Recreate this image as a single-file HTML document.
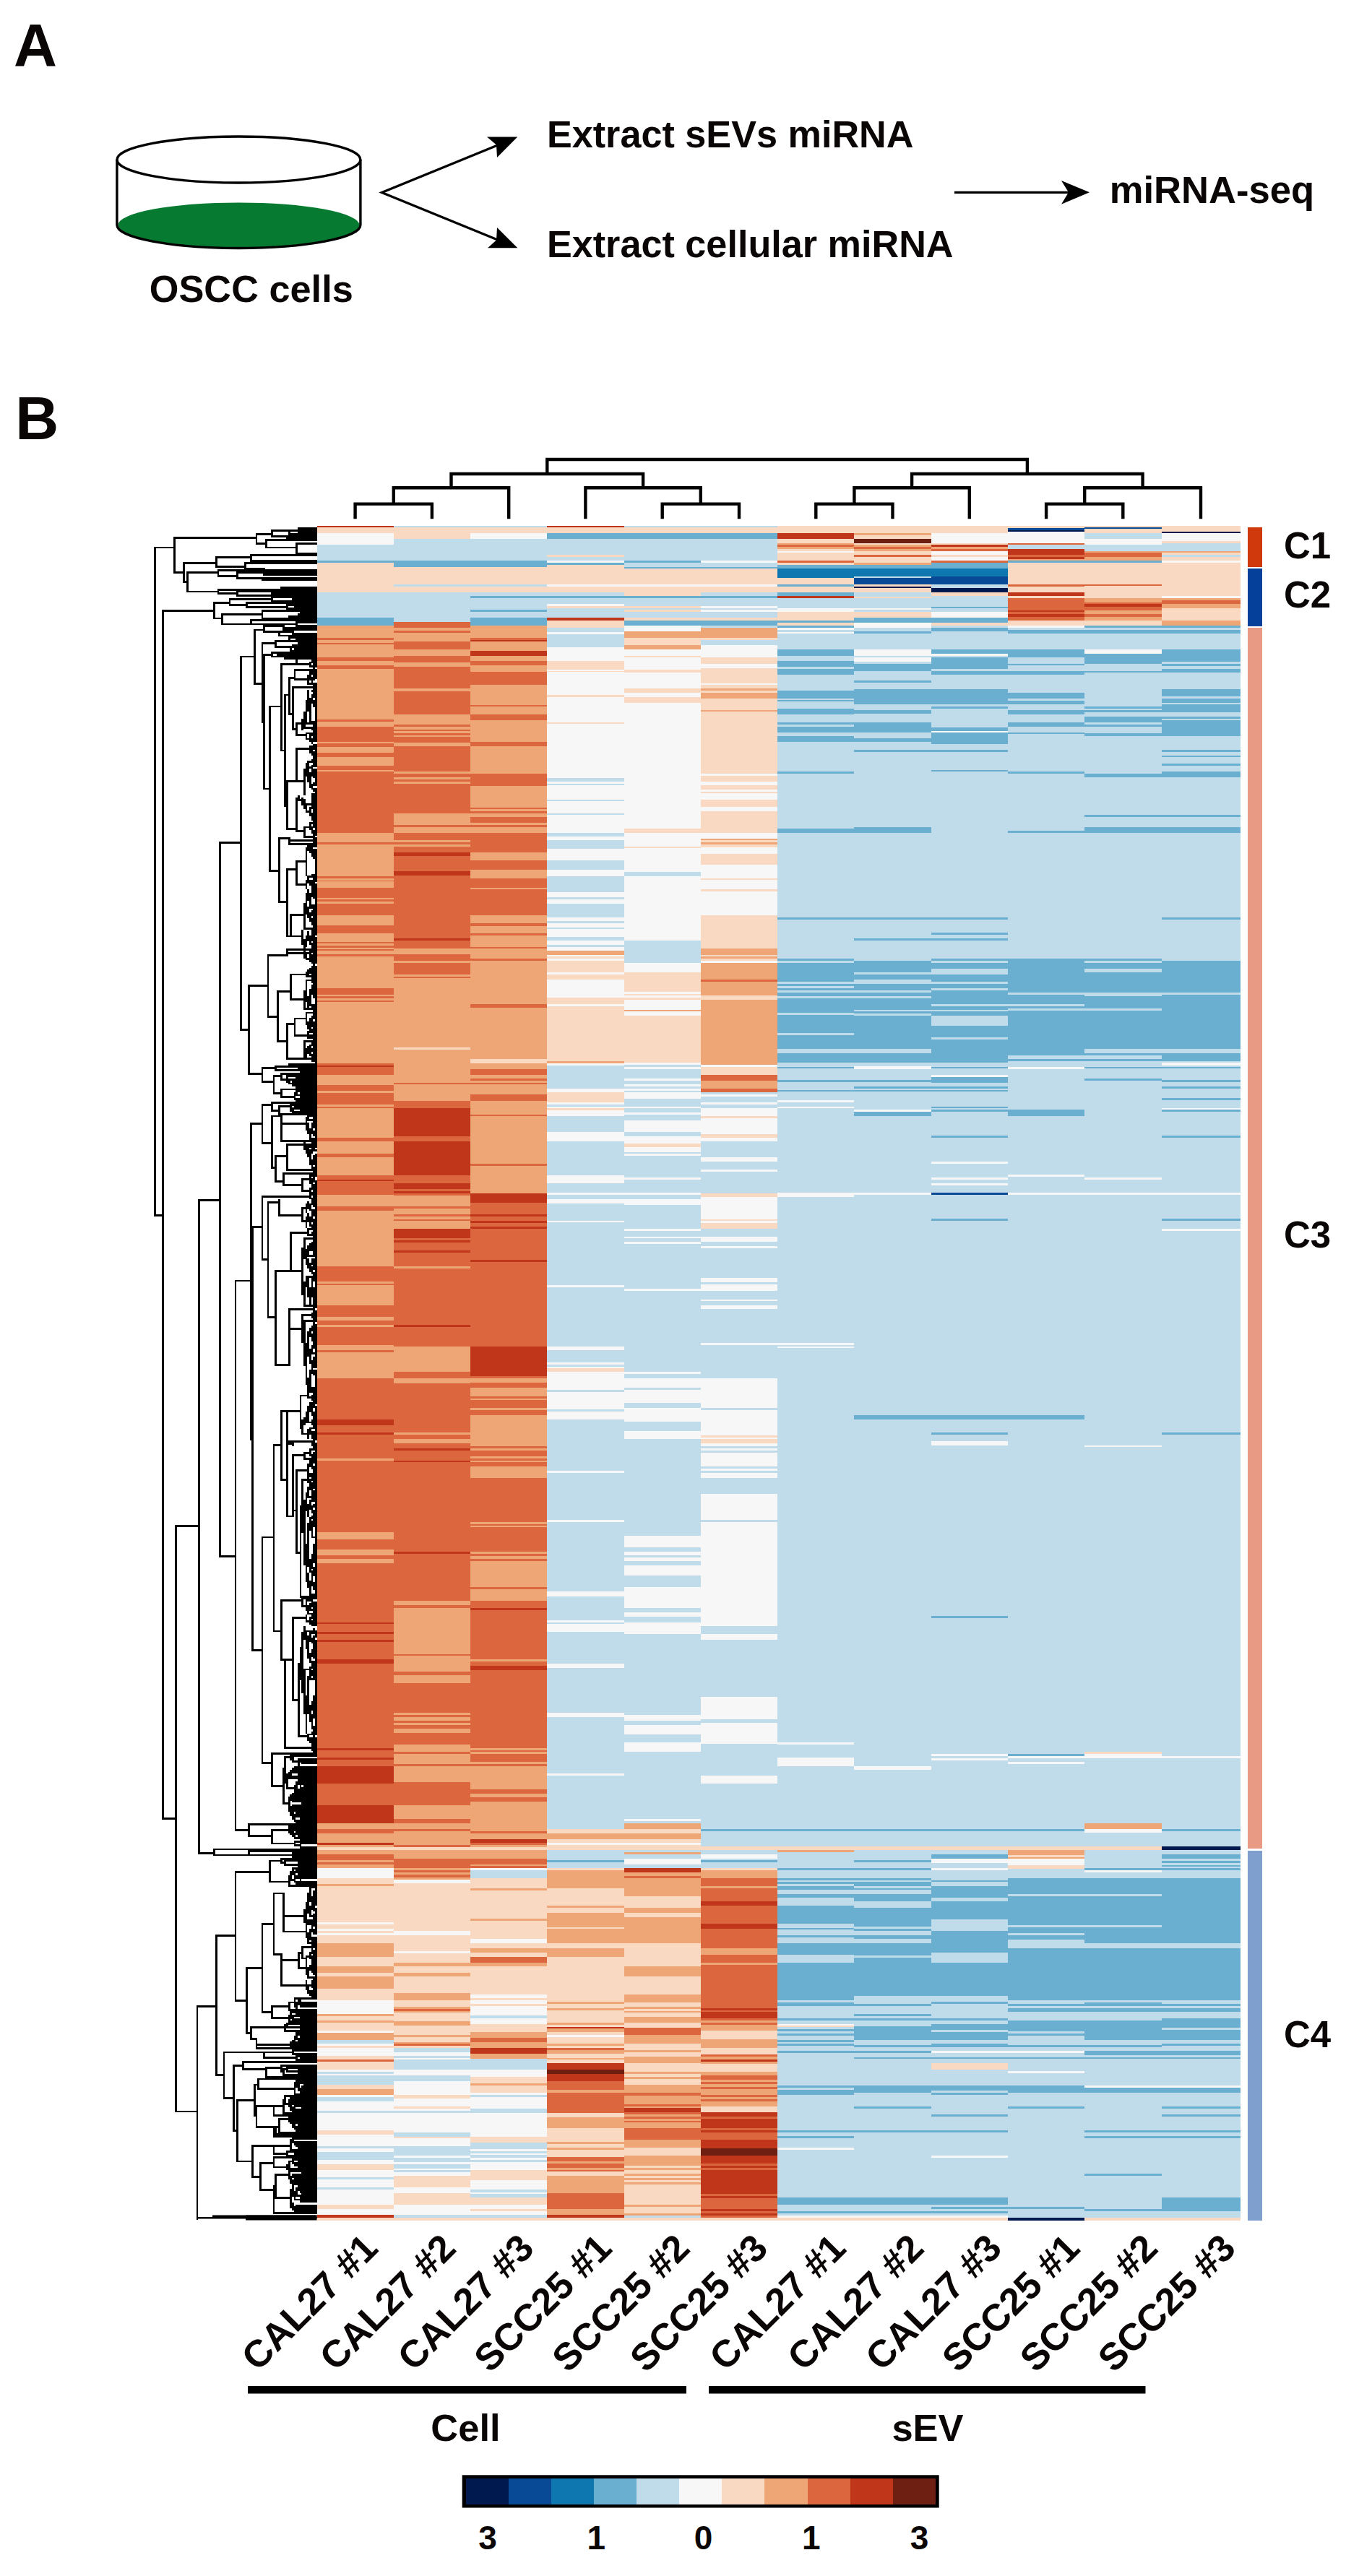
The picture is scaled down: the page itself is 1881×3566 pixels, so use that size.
<!DOCTYPE html>
<html><head><meta charset="utf-8"><title>Figure</title>
<style>html,body{margin:0;padding:0;background:#fff}svg{display:block}text{font-family:"Liberation Sans",Arial,sans-serif;font-weight:bold;fill:#0a0606}</style>
</head><body>
<svg width="1881" height="3566" viewBox="0 0 1881 3566">
<rect width="1881" height="3566" fill="#fff"/>
<text x="19" y="92" font-size="83">A</text>
<text x="21.3" y="607.5" font-size="83">B</text>
<ellipse cx="330.4" cy="311.5" rx="167" ry="31" fill="#067a30"/>
<g fill="none" stroke="#000" stroke-width="3.4"><ellipse cx="330.4" cy="221" rx="168.5" ry="32"/><path d="M161.9 221V311.5A168.5 32 0 0 0 498.9 311.5V221"/></g>
<text x="347.8" y="418" font-size="52.3" text-anchor="middle">OSCC cells</text>
<g stroke="#000" stroke-width="3.3" fill="none" stroke-linejoin="miter"><path d="M690 200.5L528.5 266.5L690 332.5"/><path d="M1321 266.3H1480"/></g>
<path d="M716.3 189.4L674 189.4L687 200.5L688 218z"/><path d="M716.3 343.2L675 343.2L687 332.5L688 315z"/><path d="M1508 266.3L1469 250L1479 266.3L1469 282.7z"/>
<text x="756.9" y="203.8" font-size="52.2">Extract sEVs miRNA</text>
<text x="756.9" y="356.3" font-size="52.2">Extract cellular miRNA</text>
<text x="1535.7" y="280.5" font-size="52.6">miRNA-seq</text>
<path d="M491.6 718.3V697.6H597.9V718.3M544.8 697.6V675.2H704.2V718.3M916.7 718.3V697.6H1023V718.3M810.4 718.3V675.2H969.8V697.6M624.5 675.2V656H890.1V675.2M1129.3 718.3V697.6H1235.5V718.3M1182.4 697.6V675.2H1341.8V718.3M1448.1 718.3V697.6H1554.3V718.3M1501.2 697.6V675.2H1662V718.3M1262.1 675.2V656H1581.6V675.2M757.3 656V636H1421.9V656" fill="none" stroke="#000" stroke-width="4.4" stroke-linejoin="miter" stroke-linecap="butt"/>
<g shape-rendering="crispEdges">
<path fill="#001a4f" d="M1182.4 811.8H1288.7V814.2H1182.4zM1288.7 814.2H1394.9V819.5H1288.7zM1394.9 734.3H1501.2V735.8H1394.9zM1394.9 3069.5H1501.2V3073.5H1394.9zM1607.5 735.8H1716.6V738.2H1607.5zM1607.5 2555.7H1716.6V2561.4H1607.5z"/>
<path fill="#084a96" d="M1182.4 800.4H1288.7V809H1182.4zM1288.7 797.5H1394.9V809H1288.7zM1288.7 1651.2H1394.9V1654.1H1288.7zM1394.9 730.5H1501.2V734.3H1394.9zM1501.2 729.6H1607.5V732.4H1501.2z"/>
<path fill="#0e77b0" d="M1076.1 787H1182.4V800.4H1076.1zM1182.4 787H1288.7V797.5H1182.4zM1288.7 787H1394.9V797.5H1288.7z"/>
<path fill="#6aaed0" d="M438.5 776.4H544.8V779.3H438.5zM438.5 855.4H544.8V866.4H438.5zM544.8 776.4H651V784.6H544.8zM651 776.4H757.3V784.6H651zM651 825.2H757.3V827.6H651zM651 844.4H757.3V847.2H651zM651 855.4H757.3V866.4H651zM757.3 738.2H863.6V746.3H757.3zM757.3 779.3H863.6V782.2H757.3zM757.3 825.2H863.6V827.6H757.3zM757.3 2574.8H863.6V2577.7H757.3zM863.6 738.2H969.9V746.3H863.6zM863.6 776.4H969.9V779.3H863.6zM863.6 784.6H969.9V787H863.6zM863.6 825.2H969.9V827.6H863.6zM863.6 858.7H969.9V865.9H863.6zM969.9 738.2H1076.1V746.3H969.9zM969.9 784.6H1076.1V787H969.9zM969.9 825.2H1076.1V827.6H969.9zM969.9 858.7H1076.1V865.9H969.9zM969.9 2531.7H1076.1V2534.6H969.9zM969.9 2574.8H1076.1V2577.7H969.9zM1076.1 782.2H1182.4V787H1076.1zM1076.1 809H1182.4V811.8H1076.1zM1076.1 819.5H1182.4V825.2H1076.1zM1076.1 858.7H1182.4V861.6H1076.1zM1076.1 866.4H1182.4V869.2H1076.1zM1076.1 899.4H1182.4V907.5H1076.1zM1076.1 915.1H1182.4V923.3H1076.1zM1076.1 925.7H1182.4V933.8H1076.1zM1076.1 956.3H1182.4V966.8H1076.1zM1076.1 968.7H1182.4V970.6H1076.1zM1076.1 980.7H1182.4V988.8H1076.1zM1076.1 999.8H1182.4V1003.1H1076.1zM1076.1 1006H1182.4V1013.8H1076.1zM1076.1 1018.6H1182.4V1027.2H1076.1zM1076.1 1068.4H1182.4V1070.7H1076.1zM1076.1 1147.3H1182.4V1152.5H1076.1zM1076.1 1269.7H1182.4V1272.6H1076.1zM1076.1 1326.8H1182.4V1329.7H1076.1zM1076.1 1332.5H1182.4V1359.3H1076.1zM1076.1 1362.2H1182.4V1365H1076.1zM1076.1 1367.9H1182.4V1370.8H1076.1zM1076.1 1373.7H1182.4V1378.9H1076.1zM1076.1 1381.8H1182.4V1402.4H1076.1zM1076.1 1405.2H1182.4V1430.1H1076.1zM1076.1 1433H1182.4V1452.1H1076.1zM1076.1 1457.8H1182.4V1471.2H1076.1zM1076.1 1477H1182.4V1479.4H1076.1zM1076.1 1495.1H1182.4V1498H1076.1zM1076.1 1508.5H1182.4V1511.4H1076.1zM1076.1 2531.7H1182.4V2534.6H1076.1zM1076.1 2586.3H1182.4V2589.1H1076.1zM1076.1 2599.7H1182.4V2602.5H1076.1zM1076.1 2605.4H1182.4V2608.3H1076.1zM1076.1 2611.1H1182.4V2615.9H1076.1zM1076.1 2621.7H1182.4V2627.4H1076.1zM1076.1 2637.9H1182.4V2662.8H1076.1zM1076.1 2668.5H1182.4V2671.4H1076.1zM1076.1 2679.1H1182.4V2681.9H1076.1zM1076.1 2689.6H1182.4V2705.8H1076.1zM1076.1 2717.3H1182.4V2769.1H1076.1zM1076.1 2772H1182.4V2776.8H1076.1zM1076.1 2794H1182.4V2796.9H1076.1zM1076.1 2809.3H1182.4V2812.2H1076.1zM1076.1 2815H1182.4V2817.9H1076.1zM1076.1 2823.7H1182.4V2826.5H1076.1zM1076.1 2829.4H1182.4V2832.3H1076.1zM1076.1 2839H1182.4V2841.8H1076.1zM1076.1 2886.8H1182.4V2889.7H1076.1zM1076.1 2892.5H1182.4V2900.2H1076.1zM1076.1 2949H1182.4V2951.8H1076.1zM1076.1 2956.6H1182.4V2959.5H1076.1zM1076.1 3041.8H1182.4V3052.3H1076.1zM1076.1 3060.9H1182.4V3063.8H1076.1zM1182.4 782.2H1288.7V787H1182.4zM1182.4 855.4H1288.7V861.6H1182.4zM1182.4 874H1288.7V876.9H1182.4zM1182.4 919H1288.7V928.5H1182.4zM1182.4 942.4H1288.7V944.8H1182.4zM1182.4 954.4H1288.7V974.9H1182.4zM1182.4 983.1H1288.7V987.8H1182.4zM1182.4 999.8H1288.7V1013.8H1182.4zM1182.4 1021.5H1288.7V1027.2H1182.4zM1182.4 1037.7H1288.7V1040.6H1182.4zM1182.4 1144.9H1288.7V1152.5H1182.4zM1182.4 1269.7H1288.7V1272.6H1182.4zM1182.4 1298.9H1288.7V1302.4H1182.4zM1182.4 1329.7H1288.7V1345.9H1182.4zM1182.4 1348.8H1288.7V1356.4H1182.4zM1182.4 1362.2H1288.7V1370.8H1182.4zM1182.4 1373.7H1288.7V1378.9H1182.4zM1182.4 1381.8H1288.7V1398H1182.4zM1182.4 1400.4H1288.7V1403.3H1182.4zM1182.4 1406.2H1288.7V1452.1H1182.4zM1182.4 1457.8H1288.7V1471.2H1182.4zM1182.4 1495.1H1288.7V1498H1182.4zM1182.4 1503.7H1288.7V1506.6H1182.4zM1182.4 1508.5H1288.7V1511.4H1182.4zM1182.4 1539.1H1288.7V1544.9H1182.4zM1182.4 1959.4H1288.7V1965.1H1182.4zM1182.4 2531.7H1288.7V2534.6H1182.4zM1182.4 2574.8H1288.7V2577.7H1182.4zM1182.4 2586.3H1288.7V2589.1H1182.4zM1182.4 2599.7H1288.7V2602.5H1182.4zM1182.4 2605.4H1288.7V2611.1H1182.4zM1182.4 2614H1288.7V2615.9H1182.4zM1182.4 2621.7H1288.7V2632.2H1182.4zM1182.4 2640.8H1288.7V2666.6H1182.4zM1182.4 2670.4H1288.7V2673.3H1182.4zM1182.4 2679.1H1288.7V2683.8H1182.4zM1182.4 2689.6H1288.7V2706.8H1182.4zM1182.4 2709.7H1288.7V2763.4H1182.4zM1182.4 2773.9H1288.7V2776.8H1182.4zM1182.4 2788.3H1288.7V2791.1H1182.4zM1182.4 2794H1288.7V2796.9H1182.4zM1182.4 2804.5H1288.7V2823.7H1182.4zM1182.4 2831.3H1288.7V2834.2H1182.4zM1182.4 2839H1288.7V2841.8H1182.4zM1182.4 2847.6H1288.7V2850.4H1182.4zM1182.4 2886.8H1288.7V2897.3H1182.4zM1182.4 2916.4H1288.7V2919.3H1182.4zM1182.4 2949H1288.7V2951.8H1182.4zM1182.4 3041.8H1288.7V3052.3H1182.4zM1182.4 3060.9H1288.7V3063.8H1182.4zM1288.7 779.3H1394.9V787H1288.7zM1288.7 839.6H1394.9V842H1288.7zM1288.7 855.4H1394.9V861.6H1288.7zM1288.7 869.2H1394.9V874H1288.7zM1288.7 899.4H1394.9V904.6H1288.7zM1288.7 910.4H1394.9V925.7H1288.7zM1288.7 928.5H1394.9V933.8H1288.7zM1288.7 954.4H1394.9V974.9H1288.7zM1288.7 978.3H1394.9V980.7H1288.7zM1288.7 1007H1394.9V1009.8H1288.7zM1288.7 1010H1394.9V1012.4H1288.7zM1288.7 1013.8H1394.9V1030.1H1288.7zM1288.7 1037.7H1394.9V1040.6H1288.7zM1288.7 1065.5H1394.9V1067.9H1288.7zM1288.7 1269.7H1394.9V1272.6H1288.7zM1288.7 1291.2H1394.9V1293.6H1288.7zM1288.7 1298.9H1394.9V1302.4H1288.7zM1288.7 1326.8H1394.9V1329.7H1288.7zM1288.7 1332.5H1394.9V1340.7H1288.7zM1288.7 1348.8H1394.9V1359.3H1288.7zM1288.7 1362.2H1394.9V1367.9H1288.7zM1288.7 1370.8H1394.9V1389.9H1288.7zM1288.7 1392.8H1394.9V1398H1288.7zM1288.7 1400.4H1394.9V1406.2H1288.7zM1288.7 1419.6H1394.9V1435.8H1288.7zM1288.7 1438.7H1394.9V1471.2H1288.7zM1288.7 1477H1394.9V1479.4H1288.7zM1288.7 1491.3H1394.9V1499H1288.7zM1288.7 1503.7H1394.9V1506.6H1288.7zM1288.7 1508.5H1394.9V1511.4H1288.7zM1288.7 1531.5H1394.9V1534.4H1288.7zM1288.7 1536.3H1394.9V1539.1H1288.7zM1288.7 1571.7H1394.9V1574.5H1288.7zM1288.7 1686.6H1394.9V1689.5H1288.7zM1288.7 1959.4H1394.9V1965.1H1288.7zM1288.7 1983.3H1394.9V1986.2H1288.7zM1288.7 2237H1394.9V2239.8H1288.7zM1288.7 2531.7H1394.9V2534.6H1288.7zM1288.7 2567.1H1394.9V2572.9H1288.7zM1288.7 2602.5H1394.9V2605.4H1288.7zM1288.7 2611.1H1394.9V2627.4H1288.7zM1288.7 2632.2H1394.9V2657.1H1288.7zM1288.7 2673.3H1394.9V2703H1288.7zM1288.7 2717.3H1394.9V2763.4H1288.7zM1288.7 2771H1394.9V2773.9H1288.7zM1288.7 2794H1394.9V2796.9H1288.7zM1288.7 2801.7H1394.9V2810.3H1288.7zM1288.7 2813.1H1394.9V2823.7H1288.7zM1288.7 2829.4H1394.9V2834.2H1288.7zM1288.7 2847.6H1394.9V2850.4H1288.7zM1288.7 2886.8H1394.9V2894.4H1288.7zM1288.7 2897.3H1394.9V2900.2H1288.7zM1288.7 2927H1394.9V2929.8H1288.7zM1288.7 2949H1394.9V2951.8H1288.7zM1288.7 3041.8H1394.9V3052.3H1288.7zM1288.7 3055.1H1394.9V3058H1288.7zM1288.7 3060.9H1394.9V3063.8H1288.7zM1394.9 776.4H1501.2V779.3H1394.9zM1394.9 872.1H1501.2V876.9H1394.9zM1394.9 899.4H1501.2V910.4H1394.9zM1394.9 918.5H1501.2V920.9H1394.9zM1394.9 928.5H1501.2V933.8H1394.9zM1394.9 959.1H1501.2V966.8H1394.9zM1394.9 969.7H1501.2V974.9H1394.9zM1394.9 983.1H1501.2V988.8H1394.9zM1394.9 999.8H1501.2V1006H1394.9zM1394.9 1013.8H1501.2V1015.7H1394.9zM1394.9 1068.4H1501.2V1070.7H1394.9zM1394.9 1149.7H1501.2V1152.5H1394.9zM1394.9 1326.8H1501.2V1373.7H1394.9zM1394.9 1376.5H1501.2V1389.9H1394.9zM1394.9 1392.8H1501.2V1395.7H1394.9zM1394.9 1398.5H1501.2V1460.7H1394.9zM1394.9 1466.4H1501.2V1469.3H1394.9zM1394.9 1536.3H1501.2V1544.9H1394.9zM1394.9 1959.4H1501.2V1965.1H1394.9zM1394.9 2428.3H1501.2V2431.1H1394.9zM1394.9 2531.7H1501.2V2534.6H1394.9zM1394.9 2599.7H1501.2V2621.7H1394.9zM1394.9 2624.5H1501.2V2664.7H1394.9zM1394.9 2667.6H1501.2V2676.2H1394.9zM1394.9 2679.1H1501.2V2684.8H1394.9zM1394.9 2697.2H1501.2V2769.1H1394.9zM1394.9 2773.9H1501.2V2776.8H1394.9zM1394.9 2779.7H1501.2V2785.4H1394.9zM1394.9 2796.9H1501.2V2812.2H1394.9zM1394.9 2815H1501.2V2817.9H1394.9zM1394.9 2831.3H1501.2V2834.2H1394.9zM1394.9 2847.6H1501.2V2850.4H1394.9zM1394.9 2886.8H1501.2V2897.3H1394.9zM1394.9 2916.4H1501.2V2919.3H1394.9zM1394.9 3055.1H1501.2V3058H1394.9zM1501.2 776.4H1607.5V779.3H1501.2zM1501.2 866.4H1607.5V869.2H1501.2zM1501.2 872.1H1607.5V876.9H1501.2zM1501.2 904.6H1607.5V918.5H1501.2zM1501.2 928.5H1607.5V931.4H1501.2zM1501.2 978.3H1607.5V980.7H1501.2zM1501.2 983.1H1607.5V985.9H1501.2zM1501.2 991.7H1607.5V999.8H1501.2zM1501.2 1003.1H1607.5V1006H1501.2zM1501.2 1014.8H1607.5V1018.6H1501.2zM1501.2 1070.7H1607.5V1076H1501.2zM1501.2 1128.1H1607.5V1130.5H1501.2zM1501.2 1144.9H1607.5V1152.5H1501.2zM1501.2 1326.8H1607.5V1329.7H1501.2zM1501.2 1332.5H1607.5V1340.7H1501.2zM1501.2 1345.9H1607.5V1373.7H1501.2zM1501.2 1378.9H1607.5V1395.7H1501.2zM1501.2 1398.5H1607.5V1452.1H1501.2zM1501.2 1457.8H1607.5V1460.7H1501.2zM1501.2 1466.4H1607.5V1469.3H1501.2zM1501.2 1477H1607.5V1479.4H1501.2zM1501.2 1493.2H1607.5V1496.1H1501.2zM1501.2 2586.3H1607.5V2589.1H1501.2zM1501.2 2599.7H1607.5V2621.7H1501.2zM1501.2 2624.5H1607.5V2664.7H1501.2zM1501.2 2667.6H1607.5V2689.6H1501.2zM1501.2 2697.2H1607.5V2769.1H1501.2zM1501.2 2772H1607.5V2776.8H1501.2zM1501.2 2779.7H1607.5V2785.4H1501.2zM1501.2 2796.9H1607.5V2823.7H1501.2zM1501.2 2831.3H1607.5V2834.2H1501.2zM1501.2 2839H1607.5V2844.7H1501.2zM1501.2 2847.6H1607.5V2850.4H1501.2zM1501.2 2889.7H1607.5V2897.3H1501.2zM1501.2 2949H1607.5V2951.8H1501.2zM1501.2 2956.6H1607.5V2959.5H1501.2zM1501.2 3009.2H1607.5V3012.1H1501.2zM1501.2 3058H1607.5V3060.9H1501.2zM1607.5 866.4H1716.6V869.2H1607.5zM1607.5 872.1H1716.6V876.9H1607.5zM1607.5 899.4H1716.6V916.1H1607.5zM1607.5 919H1716.6V921.8H1607.5zM1607.5 925.7H1716.6V931.4H1607.5zM1607.5 954.4H1716.6V963.9H1607.5zM1607.5 966.8H1716.6V972.5H1607.5zM1607.5 974.9H1716.6V985.9H1607.5zM1607.5 991.7H1716.6V994.5H1607.5zM1607.5 997.4H1716.6V1018.6H1607.5zM1607.5 1037.7H1716.6V1040.6H1607.5zM1607.5 1045.9H1716.6V1048.3H1607.5zM1607.5 1056.9H1716.6V1059.7H1607.5zM1607.5 1068.4H1716.6V1076H1607.5zM1607.5 1128.1H1716.6V1130.5H1607.5zM1607.5 1144.9H1716.6V1152.5H1607.5zM1607.5 1269.7H1716.6V1272.6H1607.5zM1607.5 1329.7H1716.6V1373.7H1607.5zM1607.5 1376.5H1716.6V1452.1H1607.5zM1607.5 1457.8H1716.6V1469.3H1607.5zM1607.5 1477H1716.6V1479.4H1607.5zM1607.5 1495.1H1716.6V1498H1607.5zM1607.5 1503.7H1716.6V1506.6H1607.5zM1607.5 1520H1716.6V1522.9H1607.5zM1607.5 1536.3H1716.6V1539.1H1607.5zM1607.5 1571.7H1716.6V1574.5H1607.5zM1607.5 1686.6H1716.6V1689.5H1607.5zM1607.5 1983.3H1716.6V1986.2H1607.5zM1607.5 2531.7H1716.6V2534.6H1607.5zM1607.5 2567.1H1716.6V2572.9H1607.5zM1607.5 2575.7H1716.6V2578.6H1607.5zM1607.5 2581.5H1716.6V2584.4H1607.5zM1607.5 2586.3H1716.6V2589.1H1607.5zM1607.5 2599.7H1716.6V2689.6H1607.5zM1607.5 2697.2H1716.6V2769.1H1607.5zM1607.5 2773.9H1716.6V2776.8H1607.5zM1607.5 2779.7H1716.6V2785.4H1607.5zM1607.5 2794H1716.6V2807.4H1607.5zM1607.5 2810.3H1716.6V2823.7H1607.5zM1607.5 2829.4H1716.6V2832.3H1607.5zM1607.5 2839H1716.6V2844.7H1607.5zM1607.5 2847.6H1716.6V2850.4H1607.5zM1607.5 2889.7H1716.6V2897.3H1607.5zM1607.5 2916.4H1716.6V2919.3H1607.5zM1607.5 2927H1716.6V2929.8H1607.5zM1607.5 2949H1716.6V2951.8H1607.5zM1607.5 2956.6H1716.6V2959.5H1607.5zM1607.5 3041.8H1716.6V3060.9H1607.5z"/>
<path fill="#c0dcea" d="M438.5 754.4H544.8V776.4H438.5zM438.5 819.5H544.8V855.4H438.5zM438.5 2824.1H544.8V2829.4H438.5zM438.5 2867.7H544.8V2870.5H438.5zM438.5 2873.4H544.8V2885.8H438.5zM438.5 2903.1H544.8V2908.8H438.5zM438.5 2922.2H544.8V2925.1H438.5zM438.5 2971H544.8V2973.8H438.5zM438.5 2978.6H544.8V2990.1H438.5zM438.5 3014H544.8V3016.9H438.5zM438.5 3028.4H544.8V3031.2H438.5zM544.8 727.5H651V729.6H544.8zM544.8 746.3H651V776.4H544.8zM544.8 809H651V811.8H544.8zM544.8 819.5H651V861.1H544.8zM544.8 2835.1H651V2840.9H544.8zM544.8 2845.7H651V2848.5H544.8zM544.8 2851.4H651V2864.8H544.8zM544.8 2873.4H651V2881.1H544.8zM544.8 2922.2H651V2925.1H544.8zM544.8 2951.8H651V2957.6H544.8zM544.8 2971H651V2984.4H544.8zM544.8 2987.2H651V2993H544.8zM544.8 2995.8H651V3001.6H544.8zM544.8 3004.4H651V3007.3H544.8zM544.8 3065.7H651V3069.5H544.8zM651 727.5H757.3V729.6H651zM651 746.3H757.3V776.4H651zM651 809H757.3V811.8H651zM651 819.5H757.3V825.2H651zM651 827.6H757.3V844.4H651zM651 847.2H757.3V855.4H651zM651 2589.1H757.3V2599.7H651zM651 2790.2H757.3V2794H651zM651 2850.4H757.3V2864.8H651zM651 2900.2H757.3V2903.1H651zM651 2919.3H757.3V2925.1H651zM651 2966.2H757.3V2974.8H651zM651 2977.7H757.3V2980.5H651zM651 2983.4H757.3V2987.2H651zM651 2990.1H757.3V2993H651zM651 3031.2H757.3V3035.1H651zM651 3037H757.3V3041.8H651zM651 3065.7H757.3V3069.5H651zM757.3 746.3H863.6V767.8H757.3zM757.3 770.7H863.6V776.4H757.3zM757.3 819.5H863.6V825.2H757.3zM757.3 827.6H863.6V836.2H757.3zM757.3 842H863.6V855.4H757.3zM757.3 869.2H863.6V875.4H757.3zM757.3 877.8H863.6V896H757.3zM757.3 1077H863.6V1081.7H757.3zM757.3 1084.6H863.6V1087H757.3zM757.3 1106.6H863.6V1109H757.3zM757.3 1125.7H863.6V1128.1H757.3zM757.3 1152.5H863.6V1158.3H757.3zM757.3 1163.1H863.6V1174.5H757.3zM757.3 1190.8H863.6V1204.2H757.3zM757.3 1212.8H863.6V1234.8H757.3zM757.3 1242.4H863.6V1245.3H757.3zM757.3 1250.6H863.6V1269.7H757.3zM757.3 1275H863.6V1277.8H757.3zM757.3 1283.6H863.6V1286H757.3zM757.3 1297H863.6V1299.8H757.3zM757.3 1300H863.6V1302.4H757.3zM757.3 1307.7H863.6V1310.5H757.3zM757.3 1475.1H863.6V1506.6H757.3zM757.3 1528.6H863.6V1531.5H757.3zM757.3 1545.4H863.6V1566.9H757.3zM757.3 1580.3H863.6V1627.3H757.3zM757.3 1637.8H863.6V1651.2H757.3zM757.3 1654.1H863.6V1659.8H757.3zM757.3 1665.6H863.6V1689.5H757.3zM757.3 1692.4H863.6V1779.4H757.3zM757.3 1782.3H863.6V1863.6H757.3zM757.3 1869.3H863.6V1885.7H757.3zM757.3 1888.6H863.6V1891.5H757.3zM757.3 1924H863.6V1926.9H757.3zM757.3 1950.8H863.6V1953.7H757.3zM757.3 1965.1H863.6V2035.9H757.3zM757.3 2038.8H863.6V2103.8H757.3zM757.3 2106.7H863.6V2202.5H757.3zM757.3 2210.2H863.6V2242.7H757.3zM757.3 2245.6H863.6V2248.4H757.3zM757.3 2259H863.6V2303H757.3zM757.3 2308.7H863.6V2370.9H757.3zM757.3 2376.6H863.6V2455.1H757.3zM757.3 2457.9H863.6V2531.7H757.3zM757.3 2561.4H863.6V2574.8H757.3zM757.3 2577.7H863.6V2586.3H757.3zM863.6 727.5H969.9V729.6H863.6zM863.6 746.3H969.9V776.4H863.6zM863.6 779.3H969.9V784.6H863.6zM863.6 827.6H969.9V839.1H863.6zM863.6 842H969.9V844.4H863.6zM863.6 847.2H969.9V855.4H863.6zM863.6 1207.1H969.9V1212.8H863.6zM863.6 1302.4H969.9V1332.5H863.6zM863.6 1474.1H969.9V1477H863.6zM863.6 1479.8H969.9V1493.2H863.6zM863.6 1496.1H969.9V1501.4H863.6zM863.6 1504.2H969.9V1506.6H863.6zM863.6 1509.5H969.9V1512.4H863.6zM863.6 1521H969.9V1531.5H863.6zM863.6 1534.4H969.9V1540.1H863.6zM863.6 1543H969.9V1550.6H863.6zM863.6 1566.9H969.9V1572.6H863.6zM863.6 1594.8H969.9V1597.2H863.6zM863.6 1599.6H969.9V1630.2H863.6zM863.6 1633H969.9V1651.2H863.6zM863.6 1654.1H969.9V1659.8H863.6zM863.6 1667.5H969.9V1701H863.6zM863.6 1703.8H969.9V1711.5H863.6zM863.6 1714.4H969.9V1719.1H863.6zM863.6 1722H969.9V1784.2H863.6zM863.6 1787.1H969.9V1899.1H863.6zM863.6 1902H969.9V1907.7H863.6zM863.6 1921.1H969.9V1924H863.6zM863.6 1942.2H969.9V1948.9H863.6zM863.6 1968H969.9V1981.4H863.6zM863.6 1991.9H969.9V2125.8H863.6zM863.6 2142.1H969.9V2147.8H863.6zM863.6 2152.6H969.9V2155.5H863.6zM863.6 2161.2H969.9V2167H863.6zM863.6 2180.5H969.9V2196.8H863.6zM863.6 2226.4H969.9V2232.2H863.6zM863.6 2237.9H969.9V2245.6H863.6zM863.6 2261.8H969.9V2373.7H863.6zM863.6 2382.4H969.9V2388.1H863.6zM863.6 2400.5H969.9V2412H863.6zM863.6 2425.4H969.9V2518.4H863.6zM863.6 2521.2H969.9V2524.1H863.6zM863.6 2561.4H969.9V2564.3H863.6zM863.6 2567.1H969.9V2572.9H863.6zM863.6 2580.5H969.9V2586.3H863.6zM863.6 3066.6H969.9V3069.5H863.6zM969.9 727.5H1076.1V729.6H969.9zM969.9 746.3H1076.1V776.4H969.9zM969.9 779.3H1076.1V784.6H969.9zM969.9 819.5H1076.1V825.2H969.9zM969.9 827.6H1076.1V839.1H969.9zM969.9 842H1076.1V844.4H969.9zM969.9 847.2H1076.1V855.4H969.9zM969.9 865.9H1076.1V869.2H969.9zM969.9 885.5H1076.1V893.1H969.9zM969.9 1512.4H1076.1V1515.2H969.9zM969.9 1518.1H1076.1V1525.8H969.9zM969.9 1528.6H1076.1V1534.4H969.9zM969.9 1580.3H1076.1V1602.4H969.9zM969.9 1608.2H1076.1V1618.7H969.9zM969.9 1621.6H1076.1V1652.2H969.9zM969.9 1701H1076.1V1711.5H969.9zM969.9 1719.1H1076.1V1724.9H969.9zM969.9 1727.7H1076.1V1768.9H969.9zM969.9 1774.6H1076.1V1777.5H969.9zM969.9 1787.1H1076.1V1798.5H969.9zM969.9 1801.4H1076.1V1807.1H969.9zM969.9 1811.9H1076.1V1858.8H969.9zM969.9 1861.7H1076.1V1907.7H969.9zM969.9 1948.9H1076.1V1951.7H969.9zM969.9 2002.4H1076.1V2005.3H969.9zM969.9 2008.2H1076.1V2011.1H969.9zM969.9 2030.2H1076.1V2033.1H969.9zM969.9 2035.9H1076.1V2038.8H969.9zM969.9 2046.4H1076.1V2068.4H969.9zM969.9 2103.8H1076.1V2106.7H969.9zM969.9 2251.3H1076.1V2261.8H969.9zM969.9 2270.4H1076.1V2348.9H969.9zM969.9 2379.5H1076.1V2385.2H969.9zM969.9 2413.9H1076.1V2457.9H969.9zM969.9 2468.6H1076.1V2531.7H969.9zM969.9 2534.6H1076.1V2555.7H969.9zM969.9 2561.4H1076.1V2567.1H969.9zM969.9 2572.9H1076.1V2574.8H969.9zM969.9 2577.7H1076.1V2586.3H969.9zM1076.1 828.1H1182.4V842H1076.1zM1076.1 872.1H1182.4V875H1076.1zM1076.1 876.9H1182.4V899.4H1076.1zM1076.1 907.5H1182.4V915.1H1076.1zM1076.1 923.3H1182.4V925.7H1076.1zM1076.1 933.8H1182.4V956.3H1076.1zM1076.1 966.8H1182.4V968.7H1076.1zM1076.1 970.6H1182.4V980.7H1076.1zM1076.1 988.8H1182.4V999.8H1076.1zM1076.1 1003.1H1182.4V1006H1076.1zM1076.1 1013.8H1182.4V1018.6H1076.1zM1076.1 1027.2H1182.4V1068.4H1076.1zM1076.1 1070.7H1182.4V1147.3H1076.1zM1076.1 1152.5H1182.4V1269.7H1076.1zM1076.1 1272.6H1182.4V1326.8H1076.1zM1076.1 1329.7H1182.4V1332.5H1076.1zM1076.1 1359.3H1182.4V1362.2H1076.1zM1076.1 1365H1182.4V1367.9H1076.1zM1076.1 1370.8H1182.4V1373.7H1076.1zM1076.1 1378.9H1182.4V1381.8H1076.1zM1076.1 1402.4H1182.4V1405.2H1076.1zM1076.1 1430.1H1182.4V1433H1076.1zM1076.1 1452.1H1182.4V1457.8H1076.1zM1076.1 1471.2H1182.4V1477H1076.1zM1076.1 1479.4H1182.4V1495.1H1076.1zM1076.1 1498H1182.4V1508.5H1076.1zM1076.1 1511.4H1182.4V1522.9H1076.1zM1076.1 1525.8H1182.4V1531.5H1076.1zM1076.1 1534.4H1182.4V1651.2H1076.1zM1076.1 1657H1182.4V1858.8H1076.1zM1076.1 1861.7H1182.4V1863.6H1076.1zM1076.1 1866.4H1182.4V2412H1076.1zM1076.1 2414.9H1182.4V2433.1H1076.1zM1076.1 2444.5H1182.4V2531.7H1076.1zM1076.1 2534.6H1182.4V2555.7H1076.1zM1076.1 2564.3H1182.4V2586.3H1076.1zM1076.1 2589.1H1182.4V2599.7H1076.1zM1076.1 2602.5H1182.4V2605.4H1076.1zM1076.1 2608.3H1182.4V2611.1H1076.1zM1076.1 2615.9H1182.4V2621.7H1076.1zM1076.1 2627.4H1182.4V2637.9H1076.1zM1076.1 2662.8H1182.4V2668.5H1076.1zM1076.1 2671.4H1182.4V2679.1H1076.1zM1076.1 2681.9H1182.4V2689.6H1076.1zM1076.1 2705.8H1182.4V2717.3H1076.1zM1076.1 2769.1H1182.4V2772H1076.1zM1076.1 2776.8H1182.4V2794H1076.1zM1076.1 2796.9H1182.4V2801.7H1076.1zM1076.1 2806.4H1182.4V2809.3H1076.1zM1076.1 2812.2H1182.4V2815H1076.1zM1076.1 2817.9H1182.4V2823.7H1076.1zM1076.1 2826.5H1182.4V2829.4H1076.1zM1076.1 2832.3H1182.4V2839H1076.1zM1076.1 2841.8H1182.4V2886.8H1076.1zM1076.1 2889.7H1182.4V2892.5H1076.1zM1076.1 2900.2H1182.4V2949H1076.1zM1076.1 2951.8H1182.4V2956.6H1076.1zM1076.1 2959.5H1182.4V2972.9H1076.1zM1076.1 2975.8H1182.4V3041.8H1076.1zM1076.1 3052.3H1182.4V3060.9H1076.1zM1076.1 3063.8H1182.4V3066.6H1076.1zM1182.4 797.5H1288.7V800.4H1182.4zM1182.4 819.5H1288.7V826.2H1182.4zM1182.4 828.1H1288.7V842H1182.4zM1182.4 844.4H1288.7V847.2H1182.4zM1182.4 869.2H1288.7V874H1182.4zM1182.4 876.9H1288.7V899.4H1182.4zM1182.4 907.5H1288.7V910.4H1182.4zM1182.4 916.1H1288.7V919H1182.4zM1182.4 928.5H1288.7V942.4H1182.4zM1182.4 944.8H1288.7V954.4H1182.4zM1182.4 974.9H1288.7V983.1H1182.4zM1182.4 987.8H1288.7V999.8H1182.4zM1182.4 1013.8H1288.7V1021.5H1182.4zM1182.4 1027.2H1288.7V1037.7H1182.4zM1182.4 1040.6H1288.7V1144.9H1182.4zM1182.4 1152.5H1288.7V1269.7H1182.4zM1182.4 1272.6H1288.7V1298.9H1182.4zM1182.4 1302.4H1288.7V1329.7H1182.4zM1182.4 1345.9H1288.7V1348.8H1182.4zM1182.4 1356.4H1288.7V1362.2H1182.4zM1182.4 1370.8H1288.7V1373.7H1182.4zM1182.4 1378.9H1288.7V1381.8H1182.4zM1182.4 1398H1288.7V1400.4H1182.4zM1182.4 1403.3H1288.7V1406.2H1182.4zM1182.4 1452.1H1288.7V1457.8H1182.4zM1182.4 1471.2H1288.7V1476H1182.4zM1182.4 1479.8H1288.7V1495.1H1182.4zM1182.4 1498H1288.7V1503.7H1182.4zM1182.4 1506.6H1288.7V1508.5H1182.4zM1182.4 1511.4H1288.7V1536.3H1182.4zM1182.4 1544.9H1288.7V1651.2H1182.4zM1182.4 1654.1H1288.7V1959.4H1182.4zM1182.4 1965.1H1288.7V2444.5H1182.4zM1182.4 2450.3H1288.7V2531.7H1182.4zM1182.4 2534.6H1288.7V2555.7H1182.4zM1182.4 2561.4H1288.7V2574.8H1182.4zM1182.4 2577.7H1288.7V2586.3H1182.4zM1182.4 2589.1H1288.7V2599.7H1182.4zM1182.4 2602.5H1288.7V2605.4H1182.4zM1182.4 2611.1H1288.7V2614H1182.4zM1182.4 2615.9H1288.7V2621.7H1182.4zM1182.4 2632.2H1288.7V2640.8H1182.4zM1182.4 2666.6H1288.7V2670.4H1182.4zM1182.4 2673.3H1288.7V2679.1H1182.4zM1182.4 2683.8H1288.7V2689.6H1182.4zM1182.4 2706.8H1288.7V2709.7H1182.4zM1182.4 2763.4H1288.7V2773.9H1182.4zM1182.4 2776.8H1288.7V2788.3H1182.4zM1182.4 2791.1H1288.7V2794H1182.4zM1182.4 2796.9H1288.7V2804.5H1182.4zM1182.4 2823.7H1288.7V2831.3H1182.4zM1182.4 2834.2H1288.7V2839H1182.4zM1182.4 2841.8H1288.7V2847.6H1182.4zM1182.4 2850.4H1288.7V2886.8H1182.4zM1182.4 2897.3H1288.7V2916.4H1182.4zM1182.4 2919.3H1288.7V2949H1182.4zM1182.4 2951.8H1288.7V3041.8H1182.4zM1182.4 3052.3H1288.7V3060.9H1182.4zM1182.4 3063.8H1288.7V3066.6H1182.4zM1288.7 809H1394.9V814.2H1288.7zM1288.7 825.2H1394.9V839.6H1288.7zM1288.7 842H1394.9V847.2H1288.7zM1288.7 866.4H1394.9V869.2H1288.7zM1288.7 874H1394.9V899.4H1288.7zM1288.7 907.5H1394.9V910.4H1288.7zM1288.7 925.7H1394.9V928.5H1288.7zM1288.7 933.8H1394.9V954.4H1288.7zM1288.7 974.9H1394.9V978.3H1288.7zM1288.7 980.7H1394.9V1007H1288.7zM1288.7 1009.8H1394.9V1010H1288.7zM1288.7 1030.1H1394.9V1037.7H1288.7zM1288.7 1040.6H1394.9V1065.5H1288.7zM1288.7 1067.9H1394.9V1269.7H1288.7zM1288.7 1272.6H1394.9V1291.2H1288.7zM1288.7 1293.6H1394.9V1298.9H1288.7zM1288.7 1302.4H1394.9V1326.8H1288.7zM1288.7 1329.7H1394.9V1332.5H1288.7zM1288.7 1340.7H1394.9V1348.8H1288.7zM1288.7 1359.3H1394.9V1362.2H1288.7zM1288.7 1367.9H1394.9V1370.8H1288.7zM1288.7 1389.9H1394.9V1392.8H1288.7zM1288.7 1398H1394.9V1400.4H1288.7zM1288.7 1406.2H1394.9V1419.6H1288.7zM1288.7 1435.8H1394.9V1438.7H1288.7zM1288.7 1471.2H1394.9V1477H1288.7zM1288.7 1479.4H1394.9V1487.5H1288.7zM1288.7 1499H1394.9V1503.7H1288.7zM1288.7 1506.6H1394.9V1508.5H1288.7zM1288.7 1511.4H1394.9V1531.5H1288.7zM1288.7 1534.4H1394.9V1536.3H1288.7zM1288.7 1539.1H1394.9V1571.7H1288.7zM1288.7 1574.5H1394.9V1608.2H1288.7zM1288.7 1611H1394.9V1630.2H1288.7zM1288.7 1633H1394.9V1637.8H1288.7zM1288.7 1640.7H1394.9V1651.2H1288.7zM1288.7 1654.1H1394.9V1686.6H1288.7zM1288.7 1689.5H1394.9V1959.4H1288.7zM1288.7 1965.1H1394.9V1983.3H1288.7zM1288.7 1986.2H1394.9V1994.8H1288.7zM1288.7 2000.5H1394.9V2237H1288.7zM1288.7 2239.8H1394.9V2428.3H1288.7zM1288.7 2431.1H1394.9V2434H1288.7zM1288.7 2436.9H1394.9V2531.7H1288.7zM1288.7 2534.6H1394.9V2555.7H1288.7zM1288.7 2561.4H1394.9V2567.1H1288.7zM1288.7 2578.6H1394.9V2586.3H1288.7zM1288.7 2589.1H1394.9V2602.5H1288.7zM1288.7 2605.4H1394.9V2611.1H1288.7zM1288.7 2627.4H1394.9V2632.2H1288.7zM1288.7 2657.1H1394.9V2673.3H1288.7zM1288.7 2703H1394.9V2717.3H1288.7zM1288.7 2763.4H1394.9V2771H1288.7zM1288.7 2773.9H1394.9V2794H1288.7zM1288.7 2796.9H1394.9V2801.7H1288.7zM1288.7 2810.3H1394.9V2813.1H1288.7zM1288.7 2823.7H1394.9V2829.4H1288.7zM1288.7 2834.2H1394.9V2839H1288.7zM1288.7 2841.8H1394.9V2847.6H1288.7zM1288.7 2850.4H1394.9V2856.2H1288.7zM1288.7 2864.8H1394.9V2886.8H1288.7zM1288.7 2894.4H1394.9V2897.3H1288.7zM1288.7 2900.2H1394.9V2927H1288.7zM1288.7 2929.8H1394.9V2949H1288.7zM1288.7 2951.8H1394.9V2984.4H1288.7zM1288.7 2987.2H1394.9V3041.8H1288.7zM1288.7 3052.3H1394.9V3055.1H1288.7zM1288.7 3058H1394.9V3060.9H1288.7zM1288.7 3063.8H1394.9V3066.6H1288.7zM1394.9 754.4H1501.2V760.2H1394.9zM1394.9 869.2H1501.2V872.1H1394.9zM1394.9 876.9H1501.2V899.4H1394.9zM1394.9 910.4H1501.2V918.5H1394.9zM1394.9 920.9H1501.2V928.5H1394.9zM1394.9 933.8H1501.2V959.1H1394.9zM1394.9 966.8H1501.2V969.7H1394.9zM1394.9 974.9H1501.2V983.1H1394.9zM1394.9 988.8H1501.2V999.8H1394.9zM1394.9 1006H1501.2V1013.8H1394.9zM1394.9 1015.7H1501.2V1068.4H1394.9zM1394.9 1070.7H1501.2V1149.7H1394.9zM1394.9 1152.5H1501.2V1326.8H1394.9zM1394.9 1373.7H1501.2V1376.5H1394.9zM1394.9 1389.9H1501.2V1392.8H1394.9zM1394.9 1395.7H1501.2V1398.5H1394.9zM1394.9 1460.7H1501.2V1466.4H1394.9zM1394.9 1469.3H1501.2V1477H1394.9zM1394.9 1479.8H1501.2V1536.3H1394.9zM1394.9 1544.9H1501.2V1626.3H1394.9zM1394.9 1629.2H1501.2V1651.2H1394.9zM1394.9 1654.1H1501.2V1959.4H1394.9zM1394.9 1965.1H1501.2V2428.3H1394.9zM1394.9 2434H1501.2V2438.8H1394.9zM1394.9 2441.7H1501.2V2531.7H1394.9zM1394.9 2534.6H1501.2V2555.7H1394.9zM1394.9 2587.2H1501.2V2599.7H1394.9zM1394.9 2621.7H1501.2V2624.5H1394.9zM1394.9 2664.7H1501.2V2667.6H1394.9zM1394.9 2676.2H1501.2V2679.1H1394.9zM1394.9 2684.8H1501.2V2697.2H1394.9zM1394.9 2769.1H1501.2V2773.9H1394.9zM1394.9 2776.8H1501.2V2779.7H1394.9zM1394.9 2785.4H1501.2V2796.9H1394.9zM1394.9 2812.2H1501.2V2815H1394.9zM1394.9 2817.9H1501.2V2831.3H1394.9zM1394.9 2834.2H1501.2V2839H1394.9zM1394.9 2841.8H1501.2V2847.6H1394.9zM1394.9 2850.4H1501.2V2866.7H1394.9zM1394.9 2869.6H1501.2V2886.8H1394.9zM1394.9 2897.3H1501.2V2916.4H1394.9zM1394.9 2919.3H1501.2V3055.1H1394.9zM1394.9 3058H1501.2V3069.5H1394.9zM1501.2 738.2H1607.5V746.3H1501.2zM1501.2 754.4H1607.5V763H1501.2zM1501.2 869.2H1607.5V872.1H1501.2zM1501.2 876.9H1607.5V899.4H1501.2zM1501.2 918.5H1607.5V928.5H1501.2zM1501.2 931.4H1607.5V978.3H1501.2zM1501.2 980.7H1607.5V983.1H1501.2zM1501.2 985.9H1607.5V991.7H1501.2zM1501.2 999.8H1607.5V1003.1H1501.2zM1501.2 1006H1607.5V1014.8H1501.2zM1501.2 1018.6H1607.5V1070.7H1501.2zM1501.2 1076H1607.5V1128.1H1501.2zM1501.2 1130.5H1607.5V1144.9H1501.2zM1501.2 1152.5H1607.5V1326.8H1501.2zM1501.2 1329.7H1607.5V1332.5H1501.2zM1501.2 1340.7H1607.5V1345.9H1501.2zM1501.2 1373.7H1607.5V1378.9H1501.2zM1501.2 1395.7H1607.5V1398.5H1501.2zM1501.2 1452.1H1607.5V1457.8H1501.2zM1501.2 1460.7H1607.5V1466.4H1501.2zM1501.2 1469.3H1607.5V1477H1501.2zM1501.2 1479.4H1607.5V1493.2H1501.2zM1501.2 1496.1H1607.5V1630.2H1501.2zM1501.2 1633H1607.5V1651.2H1501.2zM1501.2 1654.1H1607.5V2000.5H1501.2zM1501.2 2003.4H1607.5V2425.4H1501.2zM1501.2 2434H1607.5V2524.1H1501.2zM1501.2 2536.5H1607.5V2555.7H1501.2zM1501.2 2561.4H1607.5V2586.3H1501.2zM1501.2 2592H1607.5V2599.7H1501.2zM1501.2 2621.7H1607.5V2624.5H1501.2zM1501.2 2664.7H1607.5V2667.6H1501.2zM1501.2 2689.6H1607.5V2697.2H1501.2zM1501.2 2769.1H1607.5V2772H1501.2zM1501.2 2776.8H1607.5V2779.7H1501.2zM1501.2 2785.4H1607.5V2796.9H1501.2zM1501.2 2823.7H1607.5V2831.3H1501.2zM1501.2 2834.2H1607.5V2839H1501.2zM1501.2 2844.7H1607.5V2847.6H1501.2zM1501.2 2850.4H1607.5V2886.8H1501.2zM1501.2 2897.3H1607.5V2949H1501.2zM1501.2 2951.8H1607.5V2956.6H1501.2zM1501.2 2959.5H1607.5V3009.2H1501.2zM1501.2 3012.1H1607.5V3058H1501.2zM1501.2 3060.9H1607.5V3069.5H1501.2zM1607.5 751.6H1716.6V763H1607.5zM1607.5 767.8H1716.6V770.7H1607.5zM1607.5 869.2H1716.6V872.1H1607.5zM1607.5 876.9H1716.6V899.4H1607.5zM1607.5 916.1H1716.6V919H1607.5zM1607.5 921.8H1716.6V925.7H1607.5zM1607.5 931.4H1716.6V954.4H1607.5zM1607.5 963.9H1716.6V966.8H1607.5zM1607.5 972.5H1716.6V974.9H1607.5zM1607.5 985.9H1716.6V991.7H1607.5zM1607.5 994.5H1716.6V997.4H1607.5zM1607.5 1018.6H1716.6V1037.7H1607.5zM1607.5 1040.6H1716.6V1045.9H1607.5zM1607.5 1048.3H1716.6V1056.9H1607.5zM1607.5 1059.7H1716.6V1068.4H1607.5zM1607.5 1076H1716.6V1128.1H1607.5zM1607.5 1130.5H1716.6V1144.9H1607.5zM1607.5 1152.5H1716.6V1269.7H1607.5zM1607.5 1272.6H1716.6V1329.7H1607.5zM1607.5 1373.7H1716.6V1376.5H1607.5zM1607.5 1452.1H1716.6V1457.8H1607.5zM1607.5 1469.3H1716.6V1471.2H1607.5zM1607.5 1475.1H1716.6V1477H1607.5zM1607.5 1479.4H1716.6V1495.1H1607.5zM1607.5 1498H1716.6V1503.7H1607.5zM1607.5 1506.6H1716.6V1520H1607.5zM1607.5 1522.9H1716.6V1534.4H1607.5zM1607.5 1539.1H1716.6V1571.7H1607.5zM1607.5 1574.5H1716.6V1651.2H1607.5zM1607.5 1654.1H1716.6V1686.6H1607.5zM1607.5 1689.5H1716.6V1701H1607.5zM1607.5 1703.8H1716.6V1983.3H1607.5zM1607.5 1986.2H1716.6V2431.1H1607.5zM1607.5 2434H1716.6V2531.7H1607.5zM1607.5 2534.6H1716.6V2555.7H1607.5zM1607.5 2561.4H1716.6V2567.1H1607.5zM1607.5 2572.9H1716.6V2575.7H1607.5zM1607.5 2578.6H1716.6V2581.5H1607.5zM1607.5 2584.4H1716.6V2586.3H1607.5zM1607.5 2589.1H1716.6V2599.7H1607.5zM1607.5 2689.6H1716.6V2697.2H1607.5zM1607.5 2769.1H1716.6V2773.9H1607.5zM1607.5 2776.8H1716.6V2779.7H1607.5zM1607.5 2785.4H1716.6V2794H1607.5zM1607.5 2807.4H1716.6V2810.3H1607.5zM1607.5 2823.7H1716.6V2829.4H1607.5zM1607.5 2832.3H1716.6V2839H1607.5zM1607.5 2844.7H1716.6V2847.6H1607.5zM1607.5 2850.4H1716.6V2886.8H1607.5zM1607.5 2897.3H1716.6V2916.4H1607.5zM1607.5 2919.3H1716.6V2927H1607.5zM1607.5 2929.8H1716.6V2949H1607.5zM1607.5 2951.8H1716.6V2956.6H1607.5zM1607.5 2959.5H1716.6V3041.8H1607.5zM1607.5 3060.9H1716.6V3069.5H1607.5z"/>
<path fill="#f7f7f7" d="M438.5 738.2H544.8V754.4H438.5zM438.5 2586.3H544.8V2599.7H438.5zM438.5 2660.9H544.8V2663.7H438.5zM438.5 2670.4H544.8V2673.3H438.5zM438.5 2676.2H544.8V2679.1H438.5zM438.5 2769.1H544.8V2788.3H438.5zM438.5 2811.2H544.8V2814.1H438.5zM438.5 2829.4H544.8V2832.3H438.5zM438.5 2835.1H544.8V2845.7H438.5zM438.5 2864.8H544.8V2867.7H438.5zM438.5 2870.5H544.8V2873.4H438.5zM438.5 2900.2H544.8V2903.1H438.5zM438.5 2908.8H544.8V2922.2H438.5zM438.5 2925.1H544.8V2949H438.5zM438.5 2954.7H544.8V2971H438.5zM438.5 2973.8H544.8V2978.6H438.5zM438.5 2990.1H544.8V2995.8H438.5zM438.5 3003.5H544.8V3014H438.5zM438.5 3016.9H544.8V3028.4H438.5zM438.5 3031.2H544.8V3052.3H438.5zM438.5 3058H544.8V3065.7H438.5zM544.8 2601.6H651V2607.3H544.8zM544.8 2673.3H651V2679.1H544.8zM544.8 2701.1H651V2703.9H544.8zM544.8 2840.9H651V2845.7H544.8zM544.8 2848.5H651V2851.4H544.8zM544.8 2864.8H651V2873.4H544.8zM544.8 2881.1H651V2900.2H544.8zM544.8 2905H651V2916.4H544.8zM544.8 2919.3H651V2922.2H544.8zM544.8 2925.1H651V2951.8H544.8zM544.8 2960.4H651V2971H544.8zM544.8 2984.4H651V2987.2H544.8zM544.8 2993H651V2995.8H544.8zM544.8 3001.6H651V3004.4H544.8zM544.8 3007.3H651V3012.1H544.8zM544.8 3028.4H651V3036H544.8zM544.8 3052.3H651V3065.7H544.8zM651 738.2H757.3V746.3H651zM651 2586.3H757.3V2589.1H651zM651 2683.8H757.3V2689.6H651zM651 2760.5H757.3V2766.3H651zM651 2769.1H757.3V2773.9H651zM651 2776.8H757.3V2790.2H651zM651 2794H757.3V2801.7H651zM651 2864.8H757.3V2875.3H651zM651 2897.3H757.3V2900.2H651zM651 2903.1H757.3V2919.3H651zM651 2925.1H757.3V2957.6H651zM651 2974.8H757.3V2977.7H651zM651 2980.5H757.3V2983.4H651zM651 2987.2H757.3V2990.1H651zM651 2993H757.3V3004.4H651zM651 3017.8H757.3V3031.2H651zM651 3035.1H757.3V3037H651zM651 3052.3H757.3V3058H651zM651 3060.9H757.3V3065.7H651zM757.3 776.4H863.6V779.3H757.3zM757.3 809H863.6V811.8H757.3zM757.3 836.2H863.6V839.1H757.3zM757.3 875.4H863.6V877.8H757.3zM757.3 896H863.6V915.1H757.3zM757.3 926.6H863.6V928.5H757.3zM757.3 930.4H863.6V961.5H757.3zM757.3 964.9H863.6V999.8H757.3zM757.3 1002.2H863.6V1077H757.3zM757.3 1081.7H863.6V1084.6H757.3zM757.3 1087H863.6V1106.6H757.3zM757.3 1109H863.6V1125.7H757.3zM757.3 1128.1H863.6V1152.5H757.3zM757.3 1158.3H863.6V1163.1H757.3zM757.3 1174.5H863.6V1190.8H757.3zM757.3 1204.2H863.6V1212.8H757.3zM757.3 1234.8H863.6V1242.4H757.3zM757.3 1245.3H863.6V1250.6H757.3zM757.3 1269.7H863.6V1275H757.3zM757.3 1277.8H863.6V1283.6H757.3zM757.3 1286H863.6V1297H757.3zM757.3 1299.8H863.6V1300H757.3zM757.3 1302.4H863.6V1307.7H757.3zM757.3 1310.5H863.6V1315.8H757.3zM757.3 1321.5H863.6V1323.9H757.3zM757.3 1326.8H863.6V1329.7H757.3zM757.3 1345.9H863.6V1348.8H757.3zM757.3 1356.4H863.6V1381.3H757.3zM757.3 1389.9H863.6V1392.8H757.3zM757.3 1472.2H863.6V1475.1H757.3zM757.3 1506.6H863.6V1512.4H757.3zM757.3 1525.8H863.6V1528.6H757.3zM757.3 1531.5H863.6V1534.4H757.3zM757.3 1537.2H863.6V1545.4H757.3zM757.3 1566.9H863.6V1580.3H757.3zM757.3 1627.3H863.6V1637.8H757.3zM757.3 1651.2H863.6V1654.1H757.3zM757.3 1659.8H863.6V1665.6H757.3zM757.3 1689.5H863.6V1692.4H757.3zM757.3 1779.4H863.6V1782.3H757.3zM757.3 1863.6H863.6V1869.3H757.3zM757.3 1885.7H863.6V1888.6H757.3zM757.3 1891.5H863.6V1894.3H757.3zM757.3 1899.1H863.6V1924H757.3zM757.3 1926.9H863.6V1950.8H757.3zM757.3 1953.7H863.6V1965.1H757.3zM757.3 2035.9H863.6V2038.8H757.3zM757.3 2103.8H863.6V2106.7H757.3zM757.3 2202.5H863.6V2210.2H757.3zM757.3 2242.7H863.6V2245.6H757.3zM757.3 2248.4H863.6V2259H757.3zM757.3 2303H863.6V2308.7H757.3zM757.3 2370.9H863.6V2376.6H757.3zM757.3 2455.1H863.6V2457.9H757.3zM757.3 2550.9H863.6V2553.7H757.3zM757.3 2817H863.6V2819.8H757.3zM863.6 809H969.9V811.8H863.6zM863.6 865.9H969.9V874H863.6zM863.6 899.4H969.9V907.5H863.6zM863.6 909.9H969.9V926.6H863.6zM863.6 931.4H969.9V953.4H863.6zM863.6 959.1H969.9V964.9H863.6zM863.6 972.5H969.9V1147.3H863.6zM863.6 1152.5H969.9V1171.7H863.6zM863.6 1174.1H969.9V1207.1H863.6zM863.6 1212.8H969.9V1302.4H863.6zM863.6 1332.5H969.9V1345.9H863.6zM863.6 1372.7H969.9V1375.6H863.6zM863.6 1378.4H969.9V1381.3H863.6zM863.6 1384.2H969.9V1398H863.6zM863.6 1400.4H969.9V1406.2H863.6zM863.6 1471.2H969.9V1474.1H863.6zM863.6 1477H969.9V1479.8H863.6zM863.6 1493.2H969.9V1496.1H863.6zM863.6 1501.4H969.9V1504.2H863.6zM863.6 1506.6H969.9V1509.5H863.6zM863.6 1512.4H969.9V1521H863.6zM863.6 1531.5H969.9V1534.4H863.6zM863.6 1540.1H969.9V1543H863.6zM863.6 1550.6H969.9V1566.9H863.6zM863.6 1572.6H969.9V1583.1H863.6zM863.6 1588.4H969.9V1594.8H863.6zM863.6 1597.2H969.9V1599.6H863.6zM863.6 1630.2H969.9V1633H863.6zM863.6 1651.2H969.9V1654.1H863.6zM863.6 1659.8H969.9V1667.5H863.6zM863.6 1701H969.9V1703.8H863.6zM863.6 1711.5H969.9V1714.4H863.6zM863.6 1719.1H969.9V1722H863.6zM863.6 1784.2H969.9V1787.1H863.6zM863.6 1899.1H969.9V1902H863.6zM863.6 1907.7H969.9V1921.1H863.6zM863.6 1924H969.9V1942.2H863.6zM863.6 1948.9H969.9V1968H863.6zM863.6 1981.4H969.9V1991.9H863.6zM863.6 2125.8H969.9V2142.1H863.6zM863.6 2147.8H969.9V2152.6H863.6zM863.6 2155.5H969.9V2161.2H863.6zM863.6 2167H969.9V2180.5H863.6zM863.6 2196.8H969.9V2226.4H863.6zM863.6 2232.2H969.9V2237.9H863.6zM863.6 2245.6H969.9V2261.8H863.6zM863.6 2373.7H969.9V2382.4H863.6zM863.6 2388.1H969.9V2400.5H863.6zM863.6 2412H969.9V2425.4H863.6zM863.6 2518.4H969.9V2521.2H863.6zM863.6 2550.9H969.9V2553.7H863.6zM863.6 2572.9H969.9V2580.5H863.6zM969.9 776.4H1076.1V779.3H969.9zM969.9 809H1076.1V811.8H969.9zM969.9 839.1H1076.1V842H969.9zM969.9 844.4H1076.1V847.2H969.9zM969.9 893.1H1076.1V910.4H969.9zM969.9 918.5H1076.1V924.7H969.9zM969.9 945.8H1076.1V948.1H969.9zM969.9 1071.2H1076.1V1074.1H969.9zM969.9 1081.7H1076.1V1087H969.9zM969.9 1092.7H1076.1V1095.6H969.9zM969.9 1098H1076.1V1106.6H969.9zM969.9 1117.1H1076.1V1122.9H969.9zM969.9 1152.5H1076.1V1160.7H969.9zM969.9 1172.6H1076.1V1182.2H969.9zM969.9 1196.5H1076.1V1215.7H969.9zM969.9 1217.6H1076.1V1231.4H969.9zM969.9 1233.8H1076.1V1267.3H969.9zM969.9 1329.7H1076.1V1332.5H969.9zM969.9 1474.1H1076.1V1477H969.9zM969.9 1515.2H1076.1V1518.1H969.9zM969.9 1525.8H1076.1V1528.6H969.9zM969.9 1534.4H1076.1V1545.4H969.9zM969.9 1548.2H1076.1V1569.8H969.9zM969.9 1575H1076.1V1580.3H969.9zM969.9 1602.4H1076.1V1608.2H969.9zM969.9 1618.7H1076.1V1621.6H969.9zM969.9 1657H1076.1V1687.6H969.9zM969.9 1690.4H1076.1V1693.3H969.9zM969.9 1711.5H1076.1V1719.1H969.9zM969.9 1724.9H1076.1V1727.7H969.9zM969.9 1768.9H1076.1V1774.6H969.9zM969.9 1777.5H1076.1V1787.1H969.9zM969.9 1798.5H1076.1V1801.4H969.9zM969.9 1807.1H1076.1V1811.9H969.9zM969.9 1858.8H1076.1V1861.7H969.9zM969.9 1907.7H1076.1V1948.9H969.9zM969.9 1951.7H1076.1V1987.1H969.9zM969.9 1990H1076.1V1991.9H969.9zM969.9 1997.7H1076.1V2002.4H969.9zM969.9 2005.3H1076.1V2008.2H969.9zM969.9 2011.1H1076.1V2030.2H969.9zM969.9 2033.1H1076.1V2035.9H969.9zM969.9 2038.8H1076.1V2046.4H969.9zM969.9 2068.4H1076.1V2103.8H969.9zM969.9 2106.7H1076.1V2251.3H969.9zM969.9 2261.8H1076.1V2270.4H969.9zM969.9 2348.9H1076.1V2379.5H969.9zM969.9 2385.2H1076.1V2413.9H969.9zM969.9 2457.9H1076.1V2468.6H969.9zM969.9 2567.1H1076.1V2572.9H969.9zM1076.1 763H1182.4V765.4H1076.1zM1076.1 842H1182.4V847.2H1076.1zM1076.1 869.2H1182.4V872.1H1076.1zM1076.1 875H1182.4V876.9H1076.1zM1076.1 1522.9H1182.4V1525.8H1076.1zM1076.1 1531.5H1182.4V1534.4H1076.1zM1076.1 1651.2H1182.4V1657H1076.1zM1076.1 1858.8H1182.4V1861.7H1076.1zM1076.1 1863.6H1182.4V1866.4H1076.1zM1076.1 2412H1182.4V2414.9H1076.1zM1076.1 2433.1H1182.4V2444.5H1076.1zM1076.1 2801.7H1182.4V2803.6H1076.1zM1076.1 2972.9H1182.4V2975.8H1076.1zM1076.1 3066.6H1182.4V3069.5H1076.1zM1182.4 842H1288.7V844.4H1182.4zM1182.4 861.6H1288.7V869.2H1182.4zM1182.4 899.4H1288.7V907.5H1182.4zM1182.4 910.4H1288.7V916.1H1182.4zM1182.4 1476H1288.7V1479.8H1182.4zM1182.4 1536.3H1288.7V1539.1H1182.4zM1182.4 1651.2H1288.7V1654.1H1182.4zM1182.4 2444.5H1288.7V2450.3H1182.4zM1182.4 3066.6H1288.7V3069.5H1182.4zM1288.7 738.2H1394.9V751.6H1288.7zM1288.7 763H1394.9V767.8H1288.7zM1288.7 770.7H1394.9V776.4H1288.7zM1288.7 847.2H1394.9V855.4H1288.7zM1288.7 904.6H1394.9V907.5H1288.7zM1288.7 1012.4H1394.9V1013.8H1288.7zM1288.7 1487.5H1394.9V1491.3H1288.7zM1288.7 1608.2H1394.9V1611H1288.7zM1288.7 1630.2H1394.9V1633H1288.7zM1288.7 1637.8H1394.9V1640.7H1288.7zM1288.7 1994.8H1394.9V2000.5H1288.7zM1288.7 2428.3H1394.9V2431.1H1288.7zM1288.7 2434H1394.9V2436.9H1288.7zM1288.7 2572.9H1394.9V2578.6H1288.7zM1288.7 2586.3H1394.9V2589.1H1288.7zM1288.7 2839H1394.9V2841.8H1288.7zM1288.7 2984.4H1394.9V2987.2H1288.7zM1288.7 3066.6H1394.9V3069.5H1288.7zM1394.9 735.8H1501.2V751.6H1394.9zM1394.9 866.4H1501.2V869.2H1394.9zM1394.9 1477H1501.2V1479.8H1394.9zM1394.9 1626.3H1501.2V1629.2H1394.9zM1394.9 1651.2H1501.2V1654.1H1394.9zM1394.9 2431.1H1501.2V2434H1394.9zM1394.9 2438.8H1501.2V2441.7H1394.9zM1394.9 2572.9H1501.2V2581.5H1394.9zM1394.9 2839H1501.2V2841.8H1394.9zM1394.9 2866.7H1501.2V2869.6H1394.9zM1501.2 746.3H1607.5V754.4H1501.2zM1501.2 899.4H1607.5V904.6H1501.2zM1501.2 1630.2H1607.5V1633H1501.2zM1501.2 1651.2H1607.5V1654.1H1501.2zM1501.2 2000.5H1607.5V2003.4H1501.2zM1501.2 2428.3H1607.5V2434H1501.2zM1501.2 2531.7H1607.5V2536.5H1501.2zM1501.2 2589.1H1607.5V2592H1501.2zM1501.2 2886.8H1607.5V2889.7H1501.2zM1607.5 738.2H1716.6V748.7H1607.5zM1607.5 776.4H1716.6V779.3H1607.5zM1607.5 825.2H1716.6V828.1H1607.5zM1607.5 1471.2H1716.6V1475.1H1607.5zM1607.5 1534.4H1716.6V1536.3H1607.5zM1607.5 1651.2H1716.6V1654.1H1607.5zM1607.5 1701H1716.6V1703.8H1607.5zM1607.5 2431.1H1716.6V2434H1607.5zM1607.5 2886.8H1716.6V2889.7H1607.5z"/>
<path fill="#fad9c3" d="M438.5 729.6H544.8V738.2H438.5zM438.5 779.3H544.8V819.5H438.5zM438.5 2556.6H544.8V2561.4H438.5zM438.5 2599.7H544.8V2608.3H438.5zM438.5 2611.1H544.8V2660.9H438.5zM438.5 2663.7H544.8V2670.4H438.5zM438.5 2673.3H544.8V2676.2H438.5zM438.5 2679.1H544.8V2689.6H438.5zM438.5 2708.7H544.8V2722.1H438.5zM438.5 2730.7H544.8V2736.4H438.5zM438.5 2752.9H544.8V2769.1H438.5zM438.5 2791.1H544.8V2796.9H438.5zM438.5 2799.7H544.8V2811.2H438.5zM438.5 2832.3H544.8V2835.1H438.5zM438.5 2845.7H544.8V2851.4H438.5zM438.5 2854.3H544.8V2864.8H438.5zM438.5 2885.8H544.8V2891.6H438.5zM438.5 2949H544.8V2954.7H438.5zM438.5 2995.8H544.8V3003.5H438.5zM438.5 3052.3H544.8V3058H438.5zM438.5 3069.5H544.8V3073.5H438.5zM544.8 729.6H651V746.3H544.8zM544.8 784.6H651V809H544.8zM544.8 811.8H651V819.5H544.8zM544.8 1450.2H651V1452.6H544.8zM544.8 2556.6H651V2561.4H544.8zM544.8 2607.3H651V2673.3H544.8zM544.8 2679.1H651V2701.1H544.8zM544.8 2703.9H651V2717.3H544.8zM544.8 2722.1H651V2730.7H544.8zM544.8 2736.4H651V2758.6H544.8zM544.8 2769.1H651V2777.7H544.8zM544.8 2786.3H651V2797.8H544.8zM544.8 2803.6H651V2817H544.8zM544.8 2819.8H651V2826.5H544.8zM544.8 2832.3H651V2835.1H544.8zM544.8 2900.2H651V2905H544.8zM544.8 2916.4H651V2919.3H544.8zM544.8 2957.6H651V2960.4H544.8zM544.8 3012.1H651V3028.4H544.8zM544.8 3036H651V3052.3H544.8zM544.8 3069.5H651V3073.5H544.8zM651 729.6H757.3V738.2H651zM651 784.6H757.3V809H651zM651 811.8H757.3V819.5H651zM651 1466.4H757.3V1472.2H651zM651 2556.6H757.3V2561.4H651zM651 2599.7H757.3V2614H651zM651 2616.9H757.3V2656.1H651zM651 2659H757.3V2683.8H651zM651 2689.6H757.3V2697.2H651zM651 2703H757.3V2708.7H651zM651 2722.1H757.3V2760.5H651zM651 2766.3H757.3V2769.1H651zM651 2773.9H757.3V2776.8H651zM651 2801.7H757.3V2813.1H651zM651 2875.3H757.3V2883.9H651zM651 2886.8H757.3V2897.3H651zM651 2957.6H757.3V2966.2H651zM651 3004.4H757.3V3017.8H651zM651 3041.8H757.3V3052.3H651zM651 3058H757.3V3060.9H651zM651 3069.5H757.3V3073.5H651zM757.3 729.6H863.6V738.2H757.3zM757.3 767.8H863.6V770.7H757.3zM757.3 782.2H863.6V809H757.3zM757.3 811.8H863.6V819.5H757.3zM757.3 839.1H863.6V842H757.3zM757.3 858.7H863.6V869.2H757.3zM757.3 915.1H863.6V926.6H757.3zM757.3 928.5H863.6V930.4H757.3zM757.3 961.5H863.6V964.9H757.3zM757.3 999.8H863.6V1002.2H757.3zM757.3 1323.9H863.6V1326.8H757.3zM757.3 1329.7H863.6V1345.9H757.3zM757.3 1348.8H863.6V1356.4H757.3zM757.3 1381.3H863.6V1389.9H757.3zM757.3 1392.8H863.6V1469.3H757.3zM757.3 1512.4H863.6V1525.8H757.3zM757.3 1534.4H863.6V1537.2H757.3zM757.3 1894.3H863.6V1899.1H757.3zM757.3 2531.7H863.6V2537.5H757.3zM757.3 2546.1H863.6V2550.9H757.3zM757.3 2553.7H863.6V2561.4H757.3zM757.3 2586.3H863.6V2589.1H757.3zM757.3 2614H863.6V2637.9H757.3zM757.3 2640.8H863.6V2648.4H757.3zM757.3 2667.6H863.6V2670.4H757.3zM757.3 2689.6H863.6V2697.2H757.3zM757.3 2708.7H863.6V2771H757.3zM757.3 2773.9H863.6V2779.7H757.3zM757.3 2782.5H863.6V2799.7H757.3zM757.3 2802.6H863.6V2805.5H757.3zM757.3 2813.1H863.6V2817H757.3zM757.3 2819.8H863.6V2829.4H757.3zM757.3 2832.3H863.6V2835.1H757.3zM757.3 2842.8H863.6V2848.5H757.3zM757.3 2851.4H863.6V2856.2H757.3zM757.3 2925.1H863.6V2930.8H757.3zM757.3 2946.1H863.6V2965.2H757.3zM757.3 2968.1H863.6V2972.9H757.3zM757.3 2975.8H863.6V2986.3H757.3zM757.3 3006.4H863.6V3012.1H757.3zM757.3 3069.5H863.6V3073.5H757.3zM863.6 729.6H969.9V738.2H863.6zM863.6 787H969.9V809H863.6zM863.6 811.8H969.9V825.2H863.6zM863.6 839.1H969.9V842H863.6zM863.6 844.4H969.9V847.2H863.6zM863.6 855.4H969.9V858.7H863.6zM863.6 882.6H969.9V893.1H863.6zM863.6 907.5H969.9V909.9H863.6zM863.6 926.6H969.9V931.4H863.6zM863.6 953.4H969.9V959.1H863.6zM863.6 964.9H969.9V972.5H863.6zM863.6 1147.3H969.9V1152.5H863.6zM863.6 1171.7H969.9V1174.1H863.6zM863.6 1345.9H969.9V1372.7H863.6zM863.6 1375.6H969.9V1378.4H863.6zM863.6 1381.3H969.9V1384.2H863.6zM863.6 1406.2H969.9V1471.2H863.6zM863.6 1583.1H969.9V1588.4H863.6zM863.6 2531.7H969.9V2537.5H863.6zM863.6 2546.1H969.9V2550.9H863.6zM863.6 2553.7H969.9V2561.4H863.6zM863.6 2624.5H969.9V2640.8H863.6zM863.6 2648.4H969.9V2654.2H863.6zM863.6 2689.6H969.9V2722.1H863.6zM863.6 2736.4H969.9V2760.5H863.6zM863.6 2772H969.9V2777.7H863.6zM863.6 2780.6H969.9V2783.5H863.6zM863.6 2786.3H969.9V2792.1H863.6zM863.6 2799.7H969.9V2807.4H863.6zM863.6 2829.4H969.9V2838H863.6zM863.6 2840.9H969.9V2846.6H863.6zM863.6 2856.2H969.9V2867.7H863.6zM863.6 2870.5H969.9V2875.3H863.6zM863.6 2878.2H969.9V2885.8H863.6zM863.6 2972.9H969.9V2984.4H863.6zM863.6 2997.8H969.9V3000.6H863.6zM863.6 3003.5H969.9V3009.2H863.6zM863.6 3012.1H969.9V3015H863.6zM863.6 3017.8H969.9V3020.7H863.6zM863.6 3023.6H969.9V3052.3H863.6zM863.6 3055.1H969.9V3063.8H863.6zM863.6 3069.5H969.9V3073.5H863.6zM969.9 729.6H1076.1V738.2H969.9zM969.9 787H1076.1V809H969.9zM969.9 811.8H1076.1V819.5H969.9zM969.9 855.4H1076.1V858.7H969.9zM969.9 882.6H1076.1V885.5H969.9zM969.9 910.4H1076.1V918.5H969.9zM969.9 924.7H1076.1V945.8H969.9zM969.9 948.1H1076.1V953.4H969.9zM969.9 956.3H1076.1V959.1H969.9zM969.9 966.8H1076.1V983.1H969.9zM969.9 985.4H1076.1V1071.2H969.9zM969.9 1074.1H1076.1V1081.7H969.9zM969.9 1087H1076.1V1092.7H969.9zM969.9 1095.6H1076.1V1098H969.9zM969.9 1106.6H1076.1V1117.1H969.9zM969.9 1122.9H1076.1V1152.5H969.9zM969.9 1163.1H1076.1V1165.9H969.9zM969.9 1168.8H1076.1V1172.6H969.9zM969.9 1182.2H1076.1V1196.5H969.9zM969.9 1215.7H1076.1V1217.6H969.9zM969.9 1231.4H1076.1V1233.8H969.9zM969.9 1267.3H1076.1V1313.4H969.9zM969.9 1321.5H1076.1V1323.9H969.9zM969.9 1326.8H1076.1V1329.7H969.9zM969.9 1378.4H1076.1V1384.2H969.9zM969.9 1477H1076.1V1487.5H969.9zM969.9 1545.4H1076.1V1548.2H969.9zM969.9 1569.8H1076.1V1575H969.9zM969.9 1652.2H1076.1V1657H969.9zM969.9 1687.6H1076.1V1690.4H969.9zM969.9 1693.3H1076.1V1701H969.9zM969.9 1987.1H1076.1V1990H969.9zM969.9 1991.9H1076.1V1997.7H969.9zM969.9 2555.7H1076.1V2561.4H969.9zM969.9 2586.3H1076.1V2589.1H969.9zM969.9 2811.2H1076.1V2822.7H969.9zM969.9 2835.1H1076.1V2843.7H969.9zM969.9 2857.1H1076.1V2867.7H969.9zM969.9 2915.5H1076.1V2924.1H969.9zM969.9 3069.5H1076.1V3073.5H969.9zM1076.1 727.5H1182.4V738.2H1076.1zM1076.1 746.3H1182.4V751.6H1076.1zM1076.1 760.2H1182.4V763H1076.1zM1076.1 765.4H1182.4V776.4H1076.1zM1076.1 779.3H1182.4V782.2H1076.1zM1076.1 800.4H1182.4V809H1076.1zM1076.1 811.8H1182.4V819.5H1076.1zM1076.1 847.2H1182.4V858.7H1076.1zM1076.1 861.6H1182.4V866.4H1076.1zM1076.1 2555.7H1182.4V2561.4H1076.1zM1076.1 2803.6H1182.4V2806.4H1076.1zM1076.1 3069.5H1182.4V3073.5H1076.1zM1182.4 727.5H1288.7V738.2H1182.4zM1182.4 740.6H1288.7V746.3H1182.4zM1182.4 751.6H1288.7V754.4H1182.4zM1182.4 763H1288.7V767.8H1182.4zM1182.4 770.7H1288.7V779.3H1182.4zM1182.4 809H1288.7V811.8H1182.4zM1182.4 814.2H1288.7V819.5H1182.4zM1182.4 826.2H1288.7V828.1H1182.4zM1182.4 847.2H1288.7V855.4H1182.4zM1182.4 2555.7H1288.7V2561.4H1182.4zM1182.4 3069.5H1288.7V3073.5H1182.4zM1288.7 727.5H1394.9V738.2H1288.7zM1288.7 751.6H1394.9V754.4H1288.7zM1288.7 767.8H1394.9V770.7H1288.7zM1288.7 819.5H1394.9V825.2H1288.7zM1288.7 861.6H1394.9V866.4H1288.7zM1288.7 2555.7H1394.9V2561.4H1288.7zM1288.7 2856.2H1394.9V2864.8H1288.7zM1288.7 3069.5H1394.9V3073.5H1288.7zM1394.9 727.5H1501.2V730.5H1394.9zM1394.9 779.3H1501.2V809H1394.9zM1394.9 811.8H1501.2V819.5H1394.9zM1394.9 825.2H1501.2V828.1H1394.9zM1394.9 858.7H1501.2V866.4H1394.9zM1394.9 2555.7H1501.2V2561.4H1394.9zM1394.9 2568.1H1501.2V2571H1394.9zM1394.9 2581.5H1501.2V2587.2H1394.9zM1501.2 727.5H1607.5V729.6H1501.2zM1501.2 732.4H1607.5V738.2H1501.2zM1501.2 779.3H1607.5V809H1501.2zM1501.2 810.9H1607.5V828.1H1501.2zM1501.2 858.7H1607.5V866.4H1501.2zM1501.2 2425.4H1607.5V2428.3H1501.2zM1501.2 2555.7H1607.5V2561.4H1501.2zM1501.2 3069.5H1607.5V3073.5H1501.2zM1607.5 727.5H1716.6V735.8H1607.5zM1607.5 748.7H1716.6V751.6H1607.5zM1607.5 765.4H1716.6V767.8H1607.5zM1607.5 770.7H1716.6V776.4H1607.5zM1607.5 779.3H1716.6V825.2H1607.5zM1607.5 842H1716.6V858.7H1607.5zM1607.5 3069.5H1716.6V3073.5H1607.5z"/>
<path fill="#efa676" d="M438.5 866.4H544.8V882.6H438.5zM438.5 885.5H544.8V889.8H438.5zM438.5 892.2H544.8V910.4H438.5zM438.5 915.1H544.8V920.9H438.5zM438.5 925.7H544.8V996.4H438.5zM438.5 999.3H544.8V1006H438.5zM438.5 1026.7H544.8V1029.1H438.5zM438.5 1033.9H544.8V1041.6H438.5zM438.5 1048.3H544.8V1060.2H438.5zM438.5 1065.5H544.8V1068.4H438.5zM438.5 1152.5H544.8V1165.9H438.5zM438.5 1168.8H544.8V1213.3H438.5zM438.5 1215.7H544.8V1218.5H438.5zM438.5 1220.4H544.8V1229.1H438.5zM438.5 1243.4H544.8V1245.3H438.5zM438.5 1248.2H544.8V1250.6H438.5zM438.5 1267.3H544.8V1280.7H438.5zM438.5 1292.2H544.8V1303.8H438.5zM438.5 1305.7H544.8V1308.6H438.5zM438.5 1311.5H544.8V1314.3H438.5zM438.5 1316.3H544.8V1321H438.5zM438.5 1323.9H544.8V1367.9H438.5zM438.5 1376.5H544.8V1379.4H438.5zM438.5 1382.3H544.8V1385.1H438.5zM438.5 1387H544.8V1472.2H438.5zM438.5 1487.5H544.8V1501.8H438.5zM438.5 1509.5H544.8V1513.3H438.5zM438.5 1528.6H544.8V1531.5H438.5zM438.5 1534.4H544.8V1575H438.5zM438.5 1580.3H544.8V1597.2H438.5zM438.5 1602.4H544.8V1627.3H438.5zM438.5 1654.1H544.8V1670.4H438.5zM438.5 1676.1H544.8V1752.6H438.5zM438.5 1774.1H544.8V1776.5H438.5zM438.5 1779.4H544.8V1807.1H438.5zM438.5 1823.4H544.8V1828.2H438.5zM438.5 1833.9H544.8V1836.8H438.5zM438.5 1861.7H544.8V1869.3H438.5zM438.5 1872.2H544.8V1907.7H438.5zM438.5 2018.7H544.8V2021.6H438.5zM438.5 2120.6H544.8V2131.1H438.5zM438.5 2144.5H544.8V2152.6H438.5zM438.5 2158.4H544.8V2163.6H438.5zM438.5 2524.1H544.8V2531.7H438.5zM438.5 2537.5H544.8V2550.9H438.5zM438.5 2553.7H544.8V2556.6H438.5zM438.5 2561.4H544.8V2567.1H438.5zM438.5 2574.8H544.8V2577.7H438.5zM438.5 2580.5H544.8V2586.3H438.5zM438.5 2608.3H544.8V2611.1H438.5zM438.5 2689.6H544.8V2708.7H438.5zM438.5 2722.1H544.8V2730.7H438.5zM438.5 2736.4H544.8V2752.9H438.5zM438.5 2788.3H544.8V2791.1H438.5zM438.5 2796.9H544.8V2799.7H438.5zM438.5 2814.1H544.8V2824.1H438.5zM438.5 2891.6H544.8V2900.2H438.5zM544.8 869.2H651V873.1H544.8zM544.8 875.9H651V888.4H544.8zM544.8 899.4H651V907.5H544.8zM544.8 917.1H651V923.3H544.8zM544.8 953.4H651V956.8H544.8zM544.8 988.8H651V1003.1H544.8zM544.8 1006H651V1009.8H544.8zM544.8 1012.4H651V1014.8H544.8zM544.8 1017.7H651V1020H544.8zM544.8 1028.2H651V1033H544.8zM544.8 1068.4H651V1071.2H544.8zM544.8 1076H651V1078.9H544.8zM544.8 1081.7H651V1084.6H544.8zM544.8 1125.7H651V1142H544.8zM544.8 1144.9H651V1152.5H544.8zM544.8 1163.1H651V1165.9H544.8zM544.8 1168.8H651V1171.7H544.8zM544.8 1313.4H651V1321H544.8zM544.8 1329.7H651V1332.5H544.8zM544.8 1348.8H651V1351.7H544.8zM544.8 1353.6H651V1450.2H544.8zM544.8 1452.6H651V1499H544.8zM544.8 1501.4H651V1523.8H544.8zM544.8 1655H651V1670.4H544.8zM544.8 1673.2H651V1680.9H544.8zM544.8 1683.7H651V1687.6H544.8zM544.8 1690.4H651V1701H544.8zM544.8 1752.6H651V1755.5H544.8zM544.8 1863.6H651V1899.1H544.8zM544.8 1907.7H651V1915.4H544.8zM544.8 1983.3H651V1986.2H544.8zM544.8 1991.9H651V1997.7H544.8zM544.8 2215.9H651V2221.7H544.8zM544.8 2226.4H651V2289.6H544.8zM544.8 2292.4H651V2313.5H544.8zM544.8 2319.2H651V2329.7H544.8zM544.8 2370.9H651V2373.7H544.8zM544.8 2376.6H651V2382.4H544.8zM544.8 2385.2H651V2388.1H544.8zM544.8 2392.9H651V2398.6H544.8zM544.8 2414.9H651V2425.4H544.8zM544.8 2428.3H651V2441.7H544.8zM544.8 2444.5H651V2466.7H544.8zM544.8 2499.2H651V2518.4H544.8zM544.8 2524.1H651V2531.7H544.8zM544.8 2534.6H651V2553.7H544.8zM544.8 2561.4H651V2572.9H544.8zM544.8 2586.3H651V2589.1H544.8zM544.8 2592H651V2594.9H544.8zM544.8 2598.7H651V2601.6H544.8zM544.8 2717.3H651V2722.1H544.8zM544.8 2730.7H651V2736.4H544.8zM544.8 2758.6H651V2769.1H544.8zM544.8 2777.7H651V2780.6H544.8zM544.8 2783.5H651V2786.3H544.8zM544.8 2797.8H651V2803.6H544.8zM544.8 2817H651V2819.8H544.8zM544.8 2826.5H651V2829.4H544.8zM651 866.4H757.3V882.6H651zM651 888.4H757.3V900.8H651zM651 907.5H757.3V915.1H651zM651 920.9H757.3V929.5H651zM651 947.7H757.3V975.9H651zM651 978.3H757.3V988.8H651zM651 997.4H757.3V1026.7H651zM651 1033H757.3V1071.2H651zM651 1087.5H757.3V1117.6H651zM651 1120H757.3V1122.9H651zM651 1125.7H757.3V1131H651zM651 1139.1H757.3V1142H651zM651 1144.9H757.3V1152.5H651zM651 1179.8H757.3V1190.8H651zM651 1204.2H757.3V1215.7H651zM651 1229.1H757.3V1231.4H651zM651 1267.3H757.3V1277.8H651zM651 1281.7H757.3V1292.2H651zM651 1295.1H757.3V1310.5H651zM651 1313.4H757.3V1326.8H651zM651 1329.7H757.3V1389.9H651zM651 1394.7H757.3V1466.4H651zM651 1472.2H757.3V1479.8H651zM651 1488.4H757.3V1493.2H651zM651 1496.1H757.3V1499H651zM651 1501.4H757.3V1515.2H651zM651 1523.8H757.3V1543H651zM651 1545.4H757.3V1611H651zM651 1613.9H757.3V1652.2H651zM651 1907.7H757.3V1913.5H651zM651 1921.1H757.3V1932.6H651zM651 1935.5H757.3V1938.4H651zM651 1948.9H757.3V1951.7H651zM651 1959.4H757.3V2002.4H651zM651 2005.3H757.3V2008.2H651zM651 2015.8H757.3V2018.7H651zM651 2021.6H757.3V2024.4H651zM651 2030.2H757.3V2046.4H651zM651 2106.7H757.3V2109.6H651zM651 2112H757.3V2114.4H651zM651 2147.8H757.3V2150.7H651zM651 2153.6H757.3V2158.4H651zM651 2161.2H757.3V2196.8H651zM651 2199.7H757.3V2215.9H651zM651 2297.2H757.3V2300.1H651zM651 2419.7H757.3V2422.5H651zM651 2425.4H757.3V2428.3H651zM651 2438.8H757.3V2441.7H651zM651 2444.5H757.3V2477.2H651zM651 2483H757.3V2487.7H651zM651 2493.5H757.3V2534.6H651zM651 2537.5H757.3V2546.1H651zM651 2553.7H757.3V2556.6H651zM651 2561.4H757.3V2572.9H651zM651 2580.5H757.3V2583.4H651zM651 2614H757.3V2616.9H651zM651 2656.1H757.3V2659H651zM651 2697.2H757.3V2703H651zM651 2717.3H757.3V2722.1H651zM651 2813.1H757.3V2820.8H651zM651 2826.5H757.3V2835.1H651zM651 2842.8H757.3V2850.4H651zM651 2883.9H757.3V2886.8H651zM757.3 1315.8H863.6V1321.5H757.3zM757.3 1469.3H863.6V1472.2H757.3zM757.3 2537.5H863.6V2546.1H757.3zM757.3 2589.1H863.6V2614H757.3zM757.3 2637.9H863.6V2640.8H757.3zM757.3 2648.4H863.6V2667.6H757.3zM757.3 2670.4H863.6V2689.6H757.3zM757.3 2697.2H863.6V2708.7H757.3zM757.3 2771H863.6V2773.9H757.3zM757.3 2779.7H863.6V2782.5H757.3zM757.3 2799.7H863.6V2802.6H757.3zM757.3 2808.4H863.6V2813.1H757.3zM757.3 2829.4H863.6V2832.3H757.3zM757.3 2838H863.6V2842.8H757.3zM757.3 2848.5H863.6V2851.4H757.3zM757.3 2892.5H863.6V2897.3H757.3zM757.3 2930.8H863.6V2946.1H757.3zM757.3 2965.2H863.6V2968.1H757.3zM757.3 2972.9H863.6V2975.8H757.3zM757.3 2992H863.6V2994.9H757.3zM757.3 3000.6H863.6V3003.5H757.3zM757.3 3012.1H863.6V3036H757.3zM757.3 3058H863.6V3065.7H757.3zM863.6 874H969.9V882.6H863.6zM863.6 893.1H969.9V899.4H863.6zM863.6 1398H969.9V1400.4H863.6zM863.6 2524.1H969.9V2531.7H863.6zM863.6 2537.5H969.9V2546.1H863.6zM863.6 2564.3H969.9V2567.1H863.6zM863.6 2592H969.9V2596.8H863.6zM863.6 2599.7H969.9V2624.5H863.6zM863.6 2640.8H969.9V2648.4H863.6zM863.6 2654.2H969.9V2689.6H863.6zM863.6 2722.1H969.9V2736.4H863.6zM863.6 2760.5H969.9V2772H863.6zM863.6 2777.7H969.9V2780.6H863.6zM863.6 2783.5H969.9V2786.3H863.6zM863.6 2792.1H969.9V2799.7H863.6zM863.6 2817H969.9V2829.4H863.6zM863.6 2838H969.9V2840.9H863.6zM863.6 2846.6H969.9V2856.2H863.6zM863.6 2867.7H969.9V2870.5H863.6zM863.6 2875.3H969.9V2878.2H863.6zM863.6 2885.8H969.9V2897.3H863.6zM863.6 2901.1H969.9V2912.6H863.6zM863.6 2915.5H969.9V2918.4H863.6zM863.6 2927H969.9V2929.8H863.6zM863.6 2932.7H969.9V2935.6H863.6zM863.6 2938.4H969.9V2946.1H863.6zM863.6 2962.4H969.9V2972.9H863.6zM863.6 2984.4H969.9V2997.8H863.6zM863.6 3000.6H969.9V3003.5H863.6zM863.6 3009.2H969.9V3012.1H863.6zM863.6 3015H969.9V3017.8H863.6zM863.6 3020.7H969.9V3023.6H863.6zM863.6 3052.3H969.9V3055.1H863.6zM863.6 3063.8H969.9V3066.6H863.6zM969.9 869.2H1076.1V882.6H969.9zM969.9 953.4H1076.1V956.3H969.9zM969.9 959.1H1076.1V966.8H969.9zM969.9 983.1H1076.1V985.4H969.9zM969.9 1160.7H1076.1V1163.1H969.9zM969.9 1165.9H1076.1V1168.8H969.9zM969.9 1313.4H1076.1V1321.5H969.9zM969.9 1323.9H1076.1V1326.8H969.9zM969.9 1332.5H1076.1V1356.4H969.9zM969.9 1359.3H1076.1V1378.4H969.9zM969.9 1384.2H1076.1V1474.1H969.9zM969.9 1496.1H1076.1V1506.6H969.9zM969.9 2589.1H1076.1V2599.7H969.9zM969.9 2611.1H1076.1V2614H969.9zM969.9 2697.2H1076.1V2705.8H969.9zM969.9 2717.3H1076.1V2720.2H969.9zM969.9 2796.9H1076.1V2799.7H969.9zM969.9 2802.6H1076.1V2811.2H969.9zM969.9 2822.7H1076.1V2835.1H969.9zM969.9 2846.6H1076.1V2851.4H969.9zM969.9 2854.3H1076.1V2857.1H969.9zM969.9 2867.7H1076.1V2873.4H969.9zM969.9 2879.1H1076.1V2882H969.9zM969.9 2884.9H1076.1V2888.7H969.9zM969.9 2891.6H1076.1V2900.2H969.9zM969.9 2903.1H1076.1V2905.9H969.9zM969.9 2908.8H1076.1V2915.5H969.9zM1076.1 751.6H1182.4V754.4H1076.1zM1076.1 757.3H1182.4V760.2H1076.1zM1076.1 2561.4H1182.4V2564.3H1076.1zM1182.4 738.2H1288.7V740.6H1182.4zM1182.4 754.4H1288.7V757.3H1182.4zM1182.4 760.2H1288.7V763H1182.4zM1182.4 779.3H1288.7V782.2H1182.4zM1288.7 757.3H1394.9V760.2H1288.7zM1394.9 773.6H1501.2V776.4H1394.9zM1394.9 2561.4H1501.2V2568.1H1394.9zM1394.9 2571H1501.2V2572.9H1394.9zM1501.2 763H1607.5V765.4H1501.2zM1501.2 770.7H1607.5V776.4H1501.2zM1501.2 828.1H1607.5V833.8H1501.2zM1501.2 845.3H1607.5V850.1H1501.2zM1501.2 853.9H1607.5V858.7H1501.2zM1501.2 2524.1H1607.5V2531.7H1501.2zM1607.5 763H1716.6V765.4H1607.5zM1607.5 828.1H1716.6V831H1607.5zM1607.5 836.2H1716.6V842H1607.5zM1607.5 858.7H1716.6V866.4H1607.5z"/>
<path fill="#dc673f" d="M438.5 882.6H544.8V885.5H438.5zM438.5 889.8H544.8V892.2H438.5zM438.5 910.4H544.8V915.1H438.5zM438.5 920.9H544.8V925.7H438.5zM438.5 996.4H544.8V999.3H438.5zM438.5 1006H544.8V1026.7H438.5zM438.5 1029.1H544.8V1033.9H438.5zM438.5 1041.6H544.8V1048.3H438.5zM438.5 1060.2H544.8V1065.5H438.5zM438.5 1068.4H544.8V1152.5H438.5zM438.5 1165.9H544.8V1168.8H438.5zM438.5 1213.3H544.8V1215.7H438.5zM438.5 1218.5H544.8V1220.4H438.5zM438.5 1229.1H544.8V1243.4H438.5zM438.5 1245.3H544.8V1248.2H438.5zM438.5 1250.6H544.8V1267.3H438.5zM438.5 1280.7H544.8V1292.2H438.5zM438.5 1303.8H544.8V1305.7H438.5zM438.5 1308.6H544.8V1311.5H438.5zM438.5 1314.3H544.8V1316.3H438.5zM438.5 1321H544.8V1323.9H438.5zM438.5 1367.9H544.8V1376.5H438.5zM438.5 1379.4H544.8V1382.3H438.5zM438.5 1385.1H544.8V1387H438.5zM438.5 1472.2H544.8V1475.1H438.5zM438.5 1477H544.8V1487.5H438.5zM438.5 1501.8H544.8V1509.5H438.5zM438.5 1513.3H544.8V1528.6H438.5zM438.5 1531.5H544.8V1534.4H438.5zM438.5 1575H544.8V1580.3H438.5zM438.5 1597.2H544.8V1602.4H438.5zM438.5 1627.3H544.8V1633H438.5zM438.5 1635.4H544.8V1654.1H438.5zM438.5 1670.4H544.8V1676.1H438.5zM438.5 1752.6H544.8V1774.1H438.5zM438.5 1776.5H544.8V1779.4H438.5zM438.5 1807.1H544.8V1823.4H438.5zM438.5 1828.2H544.8V1833.9H438.5zM438.5 1836.8H544.8V1861.7H438.5zM438.5 1869.3H544.8V1872.2H438.5zM438.5 1907.7H544.8V1965.1H438.5zM438.5 1972.8H544.8V1983.3H438.5zM438.5 1986.2H544.8V2018.7H438.5zM438.5 2021.6H544.8V2120.6H438.5zM438.5 2131.1H544.8V2144.5H438.5zM438.5 2152.6H544.8V2158.4H438.5zM438.5 2163.6H544.8V2245.6H438.5zM438.5 2248.4H544.8V2259H438.5zM438.5 2261.8H544.8V2270.4H438.5zM438.5 2273.3H544.8V2297.2H438.5zM438.5 2303H544.8V2419.7H438.5zM438.5 2422.5H544.8V2433.1H438.5zM438.5 2435.9H544.8V2444.5H438.5zM438.5 2468.6H544.8V2499.2H438.5zM438.5 2531.7H544.8V2537.5H438.5zM438.5 2567.1H544.8V2574.8H438.5zM438.5 2577.7H544.8V2580.5H438.5zM438.5 2851.4H544.8V2854.3H438.5zM544.8 861.1H651V869.2H544.8zM544.8 873.1H651V875.9H544.8zM544.8 888.4H651V899.4H544.8zM544.8 907.5H651V917.1H544.8zM544.8 923.3H651V953.4H544.8zM544.8 956.8H651V988.8H544.8zM544.8 1003.1H651V1006H544.8zM544.8 1009.8H651V1012.4H544.8zM544.8 1014.8H651V1017.7H544.8zM544.8 1020H651V1028.2H544.8zM544.8 1033H651V1068.4H544.8zM544.8 1071.2H651V1076H544.8zM544.8 1078.9H651V1081.7H544.8zM544.8 1084.6H651V1125.7H544.8zM544.8 1142H651V1144.9H544.8zM544.8 1152.5H651V1163.1H544.8zM544.8 1165.9H651V1168.8H544.8zM544.8 1171.7H651V1179.8H544.8zM544.8 1185.1H651V1206.1H544.8zM544.8 1211.8H651V1299.4H544.8zM544.8 1302.4H651V1313.4H544.8zM544.8 1321H651V1329.7H544.8zM544.8 1332.5H651V1348.8H544.8zM544.8 1351.7H651V1353.6H544.8zM544.8 1499H651V1501.4H544.8zM544.8 1523.8H651V1534.4H544.8zM544.8 1572.6H651V1580.3H544.8zM544.8 1627.3H651V1637.8H544.8zM544.8 1646.4H651V1649.3H544.8zM544.8 1652.2H651V1655H544.8zM544.8 1670.4H651V1673.2H544.8zM544.8 1680.9H651V1683.7H544.8zM544.8 1687.6H651V1690.4H544.8zM544.8 1714.4H651V1717.2H544.8zM544.8 1720.1H651V1730.6H544.8zM544.8 1733.5H651V1752.6H544.8zM544.8 1755.5H651V1833.9H544.8zM544.8 1836.8H651V1863.6H544.8zM544.8 1899.1H651V1907.7H544.8zM544.8 1915.4H651V1983.3H544.8zM544.8 1986.2H651V1991.9H544.8zM544.8 1997.7H651V2005.3H544.8zM544.8 2008.2H651V2021.6H544.8zM544.8 2024.4H651V2147.8H544.8zM544.8 2150.7H651V2215.9H544.8zM544.8 2221.7H651V2226.4H544.8zM544.8 2289.6H651V2292.4H544.8zM544.8 2313.5H651V2319.2H544.8zM544.8 2329.7H651V2370.9H544.8zM544.8 2373.7H651V2376.6H544.8zM544.8 2382.4H651V2385.2H544.8zM544.8 2388.1H651V2392.9H544.8zM544.8 2398.6H651V2414.9H544.8zM544.8 2425.4H651V2428.3H544.8zM544.8 2441.7H651V2444.5H544.8zM544.8 2466.7H651V2499.2H544.8zM544.8 2518.4H651V2524.1H544.8zM544.8 2531.7H651V2534.6H544.8zM544.8 2553.7H651V2556.6H544.8zM544.8 2572.9H651V2586.3H544.8zM544.8 2589.1H651V2592H544.8zM544.8 2594.9H651V2598.7H544.8zM544.8 2780.6H651V2783.5H544.8zM544.8 2829.4H651V2832.3H544.8zM651 882.6H757.3V885.5H651zM651 915.1H757.3V920.9H651zM651 929.5H757.3V947.7H651zM651 975.9H757.3V978.3H651zM651 988.8H757.3V997.4H651zM651 1026.7H757.3V1033H651zM651 1071.2H757.3V1087.5H651zM651 1117.6H757.3V1120H651zM651 1122.9H757.3V1125.7H651zM651 1131H757.3V1139.1H651zM651 1142H757.3V1144.9H651zM651 1152.5H757.3V1179.8H651zM651 1190.8H757.3V1204.2H651zM651 1215.7H757.3V1229.1H651zM651 1231.4H757.3V1267.3H651zM651 1277.8H757.3V1281.7H651zM651 1292.2H757.3V1295.1H651zM651 1310.5H757.3V1313.4H651zM651 1326.8H757.3V1329.7H651zM651 1389.9H757.3V1394.7H651zM651 1479.8H757.3V1488.4H651zM651 1493.2H757.3V1496.1H651zM651 1499H757.3V1501.4H651zM651 1515.2H757.3V1523.8H651zM651 1543H757.3V1545.4H651zM651 1611H757.3V1613.9H651zM651 1665.1H757.3V1680.9H651zM651 1683.7H757.3V1690.4H651zM651 1693.3H757.3V1698.1H651zM651 1701H757.3V1744H651zM651 1746.9H757.3V1863.6H651zM651 1904.9H757.3V1907.7H651zM651 1913.5H757.3V1921.1H651zM651 1932.6H757.3V1935.5H651zM651 1938.4H757.3V1948.9H651zM651 1951.7H757.3V1959.4H651zM651 2002.4H757.3V2005.3H651zM651 2008.2H757.3V2015.8H651zM651 2018.7H757.3V2021.6H651zM651 2024.4H757.3V2030.2H651zM651 2046.4H757.3V2106.7H651zM651 2109.6H757.3V2112H651zM651 2114.4H757.3V2147.8H651zM651 2150.7H757.3V2153.6H651zM651 2158.4H757.3V2161.2H651zM651 2196.8H757.3V2199.7H651zM651 2215.9H757.3V2226.4H651zM651 2229.3H757.3V2297.2H651zM651 2300.1H757.3V2305.8H651zM651 2311.6H757.3V2419.7H651zM651 2422.5H757.3V2425.4H651zM651 2428.3H757.3V2438.8H651zM651 2441.7H757.3V2444.5H651zM651 2477.2H757.3V2483H651zM651 2487.7H757.3V2493.5H651zM651 2534.6H757.3V2537.5H651zM651 2550.9H757.3V2553.7H651zM651 2572.9H757.3V2580.5H651zM651 2583.4H757.3V2586.3H651zM651 2708.7H757.3V2717.3H651zM651 2820.8H757.3V2826.5H651zM757.3 2835.1H863.6V2838H757.3zM757.3 2881.1H863.6V2892.5H757.3zM757.3 2897.3H863.6V2925.1H757.3zM757.3 2986.3H863.6V2992H757.3zM757.3 2994.9H863.6V3000.6H757.3zM757.3 3003.5H863.6V3006.4H757.3zM757.3 3036H863.6V3058H757.3zM863.6 2596.8H969.9V2599.7H863.6zM863.6 2807.4H969.9V2817H863.6zM863.6 2897.3H969.9V2901.1H863.6zM863.6 2912.6H969.9V2915.5H863.6zM863.6 2924.1H969.9V2927H863.6zM863.6 2929.8H969.9V2932.7H863.6zM863.6 2935.6H969.9V2938.4H863.6zM863.6 2946.1H969.9V2962.4H863.6zM969.9 1356.4H1076.1V1359.3H969.9zM969.9 1487.5H1076.1V1496.1H969.9zM969.9 1506.6H1076.1V1512.4H969.9zM969.9 2599.7H1076.1V2611.1H969.9zM969.9 2614H1076.1V2632.2H969.9zM969.9 2637.9H1076.1V2662.8H969.9zM969.9 2670.4H1076.1V2697.2H969.9zM969.9 2705.8H1076.1V2717.3H969.9zM969.9 2720.2H1076.1V2779.7H969.9zM969.9 2782.5H1076.1V2785.4H969.9zM969.9 2794H1076.1V2796.9H969.9zM969.9 2799.7H1076.1V2802.6H969.9zM969.9 2843.7H1076.1V2846.6H969.9zM969.9 2873.4H1076.1V2879.1H969.9zM969.9 2882H1076.1V2884.9H969.9zM969.9 2888.7H1076.1V2891.6H969.9zM969.9 2900.2H1076.1V2903.1H969.9zM969.9 2905.9H1076.1V2908.8H969.9zM969.9 2929.8H1076.1V2932.7H969.9zM969.9 2946.1H1076.1V2949H969.9zM969.9 2951.8H1076.1V2962.4H969.9zM969.9 2994.9H1076.1V2997.8H969.9zM969.9 3000.6H1076.1V3003.5H969.9zM969.9 3037H1076.1V3039.8H969.9zM969.9 3042.7H1076.1V3058H969.9zM969.9 3060.9H1076.1V3063.8H969.9zM969.9 3066.6H1076.1V3069.5H969.9zM1076.1 754.4H1182.4V757.3H1076.1zM1076.1 776.4H1182.4V779.3H1076.1zM1182.4 757.3H1288.7V760.2H1182.4zM1182.4 767.8H1288.7V770.7H1182.4zM1288.7 760.2H1394.9V763H1288.7zM1288.7 776.4H1394.9V779.3H1288.7zM1394.9 751.6H1501.2V754.4H1394.9zM1394.9 767.8H1501.2V770.7H1394.9zM1394.9 809H1501.2V811.8H1394.9zM1394.9 828.1H1501.2V845.3H1394.9zM1394.9 847.2H1501.2V850.1H1394.9zM1394.9 853.9H1501.2V858.7H1394.9zM1501.2 765.4H1607.5V770.7H1501.2zM1501.2 809H1607.5V810.9H1501.2zM1501.2 833.8H1607.5V836.2H1501.2zM1501.2 839.6H1607.5V845.3H1501.2zM1501.2 850.1H1607.5V853.9H1501.2zM1607.5 831H1716.6V836.2H1607.5z"/>
<path fill="#c0361a" d="M438.5 727.5H544.8V729.6H438.5zM438.5 1475.1H544.8V1477H438.5zM438.5 1633H544.8V1635.4H438.5zM438.5 1965.1H544.8V1972.8H438.5zM438.5 1983.3H544.8V1986.2H438.5zM438.5 2245.6H544.8V2248.4H438.5zM438.5 2259H544.8V2261.8H438.5zM438.5 2270.4H544.8V2273.3H438.5zM438.5 2297.2H544.8V2303H438.5zM438.5 2419.7H544.8V2422.5H438.5zM438.5 2433.1H544.8V2435.9H438.5zM438.5 2444.5H544.8V2468.6H438.5zM438.5 2499.2H544.8V2524.1H438.5zM438.5 2550.9H544.8V2553.7H438.5zM438.5 3065.7H544.8V3069.5H438.5zM544.8 1179.8H651V1185.1H544.8zM544.8 1206.1H651V1211.8H544.8zM544.8 1299.4H651V1302.4H544.8zM544.8 1534.4H651V1572.6H544.8zM544.8 1580.3H651V1627.3H544.8zM544.8 1637.8H651V1646.4H544.8zM544.8 1649.3H651V1652.2H544.8zM544.8 1701H651V1714.4H544.8zM544.8 1717.2H651V1720.1H544.8zM544.8 1730.6H651V1733.5H544.8zM544.8 1833.9H651V1836.8H544.8zM544.8 2005.3H651V2008.2H544.8zM544.8 2021.6H651V2024.4H544.8zM544.8 2147.8H651V2150.7H544.8zM651 885.5H757.3V888.4H651zM651 900.8H757.3V907.5H651zM651 1652.2H757.3V1665.1H651zM651 1680.9H757.3V1683.7H651zM651 1690.4H757.3V1693.3H651zM651 1698.1H757.3V1701H651zM651 1744H757.3V1746.9H651zM651 1863.6H757.3V1904.9H651zM651 2226.4H757.3V2229.3H651zM651 2305.8H757.3V2311.6H651zM651 2546.1H757.3V2550.9H651zM651 2835.1H757.3V2842.8H651zM757.3 727.5H863.6V729.6H757.3zM757.3 855.4H863.6V858.7H757.3zM757.3 2805.5H863.6V2808.4H757.3zM757.3 2856.2H863.6V2864.8H757.3zM757.3 2870.5H863.6V2881.1H757.3zM757.3 3065.7H863.6V3069.5H757.3zM863.6 2586.3H969.9V2592H863.6zM863.6 2918.4H969.9V2924.1H863.6zM969.9 2632.2H1076.1V2637.9H969.9zM969.9 2662.8H1076.1V2670.4H969.9zM969.9 2779.7H1076.1V2782.5H969.9zM969.9 2785.4H1076.1V2794H969.9zM969.9 2851.4H1076.1V2854.3H969.9zM969.9 2924.1H1076.1V2929.8H969.9zM969.9 2932.7H1076.1V2946.1H969.9zM969.9 2949H1076.1V2951.8H969.9zM969.9 2962.4H1076.1V2973.8H969.9zM969.9 2984.4H1076.1V2994.9H969.9zM969.9 2997.8H1076.1V3000.6H969.9zM969.9 3003.5H1076.1V3037H969.9zM969.9 3039.8H1076.1V3042.7H969.9zM969.9 3058H1076.1V3060.9H969.9zM969.9 3063.8H1076.1V3066.6H969.9zM1076.1 738.2H1182.4V746.3H1076.1zM1076.1 825.2H1182.4V828.1H1076.1zM1288.7 754.4H1394.9V757.3H1288.7zM1394.9 760.2H1501.2V767.8H1394.9zM1394.9 770.7H1501.2V773.6H1394.9zM1394.9 819.5H1501.2V825.2H1394.9zM1394.9 845.3H1501.2V847.2H1394.9zM1394.9 850.1H1501.2V853.9H1394.9zM1501.2 836.2H1607.5V839.6H1501.2z"/>
<path fill="#6e1f12" d="M757.3 2864.8H863.6V2870.5H757.3zM969.9 2973.8H1076.1V2984.4H969.9zM1182.4 746.3H1288.7V751.6H1182.4z"/>
</g>
<path d="M413.3 731.5H437.2M418.6 731.5H437.2M418.6 734.1H437.2M418.6 731.5V734.1M416 736.8H437.2M416 734.1H418.6M416 734.1V736.8M413.3 736.8H416M413.3 731.5V736.8M400.1 739.4H437.2M400.1 734.1H413.3M400.1 734.1V739.4M376.2 734.1H400.1M397.4 742.1H437.2M397.4 744.7H437.2M397.4 742.1V744.7M397.4 742.1V742.1M376.2 742.1H397.4M376.2 734.1V742.1M355 739.4H376.2M368.3 747.4H437.2M410.7 752.7H437.2M410.7 765.9H437.2M410.7 752.7V765.9M368.3 758H410.7M368.3 747.4V758M355 752.7H368.3M355 739.4V752.7M241.1 744.7H355M347.1 768.6H437.2M347.1 776.5H437.2M347.1 768.6V776.5M299.4 771.2H347.1M339.1 779.2H437.2M365.6 787.1H365.6M339.1 787.1H365.6M339.1 779.2V787.1M299.4 784.5H339.1M299.4 771.2V784.5M254.3 779.2H299.4M365.6 789.8H437.2M365.6 789.8V789.8M302 789.8H365.6M365.6 792.4H437.2M365.6 795.1H437.2M365.6 792.4V795.1M328.5 792.4H365.6M363 800.4H437.2M363 803H437.2M363 800.4V803M328.5 800.4H363M328.5 792.4V800.4M302 797.7H328.5M302 789.8V797.7M259.6 792.4H302M389.5 813.6H437.2M389.5 816.3H437.2M389.5 813.6V816.3M389.5 816.3V816.3M302 816.3H389.5M357.7 818.9H437.2M357.7 818.9V818.9M328.5 818.9H357.7M376.2 821.6H437.2M376.2 824.2H437.2M376.2 821.6V824.2M376.2 824.2V824.2M328.5 824.2H376.2M328.5 818.9V824.2M302 821.6H328.5M302 816.3V821.6M259.6 818.9H302M259.6 792.4V818.9M254.3 805.7H259.6M254.3 779.2V805.7M241.1 792.4H254.3M241.1 744.7V792.4M214.6 758H241.1M376.2 826.9H437.2M405.4 829.5H437.2M405.4 832.2H437.2M405.4 829.5V832.2M376.2 832.2H405.4M376.2 826.9V832.2M317.9 829.5H376.2M341.8 834.8H437.2M397.4 837.5H437.2M408 840.1H437.2M408 842.8H437.2M408 840.1V842.8M397.4 842.8H408M397.4 837.5V842.8M341.8 840.1H397.4M341.8 834.8V840.1M317.9 837.5H341.8M317.9 829.5V837.5M296.7 834.8H317.9M363 845.4H437.2M416 848.1H437.2M416 850.7H437.2M416 848.1V850.7M413.3 853.4H437.2M413.3 850.7H416M413.3 850.7V853.4M400.1 856H437.2M400.1 853.4H413.3M400.1 853.4V856M363 856H400.1M363 845.4V856M307.3 850.7H363M347.1 858.7H437.2M410.7 861.3H437.2M410.7 866.6H437.2M410.7 861.3V866.6M347.1 864H410.7M347.1 858.7V864M307.3 864H347.1M307.3 850.7V864M296.7 856H307.3M296.7 834.8V856M225.2 845.4H296.7M392.1 869.3H437.2M392.1 871.9H437.2M392.1 869.3V871.9M392.1 866.6V869.3M365.6 866.6H392.1M405.4 874.6H405.4M405.4 877.2H437.2M405.4 874.6V877.2M386.8 879.9H437.2M386.8 874.6H405.4M386.8 874.6V879.9M365.6 874.6H386.8M365.6 866.6V874.6M352.4 871.9H365.6M410.7 882.5H437.2M416 882.5H437.2M416 885.2H437.2M416 882.5V885.2M410.7 885.2H416M410.7 882.5V885.2M400.1 887.8H437.2M400.1 882.5H410.7M400.1 882.5V887.8M381.5 887.8H400.1M413.3 890.5H437.2M413.3 893.1H437.2M413.3 890.5V893.1M405.4 895.8H437.2M405.4 893.1H413.3M405.4 893.1V895.8M408 898.4H437.2M408 901.1H437.2M408 898.4V901.1M402.7 895.8H405.4M402.7 901.1H408M402.7 895.8V901.1M381.5 895.8H402.7M381.5 887.8V895.8M363 890.5H381.5M384.2 903.7H437.2M384.2 906.4H437.2M384.2 903.7V906.4M384.2 903.7V903.7M376.2 903.7H384.2M394.8 909H437.2M394.8 911.7H437.2M394.8 909V911.7M376.2 909H394.8M376.2 903.7V909M365.6 906.4H376.2M431.9 914.3H437.2M434.5 917H437.2M434.5 919.6H437.2M434.5 917V919.6M434.5 922.3H437.2M434.5 922.3V924.9M429.2 917H434.5M429.2 922.3H434.5M429.2 917V922.3M410.7 919.6H429.2M410.7 914.3V919.6M389.5 919.6H410.7M431.9 927.6H437.2M408 927.6H431.9M431.9 930.2H437.2M434.5 932.9H437.2M434.5 935.5H437.2M434.5 932.9V935.5M431.9 932.9H434.5M431.9 930.2V932.9M434.5 938.2H437.2M434.5 938.2V940.8M431.9 938.2H434.5M431.9 938.2V943.5M429.2 930.2H431.9M429.2 940.8H431.9M429.2 930.2V940.8M434.5 946.1H437.2M434.5 948.8H437.2M434.5 946.1V948.8M426.6 935.5H429.2M426.6 946.1H434.5M426.6 935.5V946.1M408 940.8H426.6M408 927.6V940.8M400.1 938.2H408M434.5 951.4H437.2M434.5 954.1H437.2M434.5 951.4V954.1M431.9 956.7H437.2M434.5 959.4H437.2M437.2 962H437.2M437.2 964.7H437.2M437.2 967.3H437.2M437.2 964.7V967.3M437.2 962V967.3M434.5 964.7H437.2M434.5 959.4V964.7M434.5 970H437.2M437.2 972.6H437.2M437.2 975.3H437.2M437.2 977.9H437.2M437.2 980.6H437.2M437.2 977.9V980.6M437.2 975.3V980.6M437.2 983.2H437.2M437.2 985.9H437.2M437.2 988.5H437.2M437.2 993.8H437.2M437.2 996.5H437.2M437.2 993.8V996.5M437.2 991.2V996.5M437.2 988.5V993.8M437.2 991.2H437.2M437.2 985.9V991.2M437.2 983.2V988.5M437.2 977.9V985.9M437.2 972.6V980.6M434.5 977.9H437.2M434.5 970V977.9M431.9 962H434.5M431.9 972.6H434.5M431.9 962V972.6M431.9 999.1H437.2M429.2 999.1H431.9M429.2 967.3H431.9M429.2 967.3V999.1M426.6 983.2H429.2M426.6 956.7V983.2M431.9 1001.8H437.2M423.9 1001.8H431.9M423.9 970H426.6M423.9 970V1001.8M434.5 1004.4H437.2M434.5 1007.1H437.2M434.5 1004.4V1007.1M421.3 985.9H423.9M421.3 1007.1H434.5M421.3 985.9V1007.1M431.9 1009.7H437.2M418.6 996.5H421.3M418.6 996.5V1009.7M434.5 1012.4H437.2M434.5 1015H437.2M434.5 1012.4V1015M431.9 1017.7H437.2M434.5 1020.3H437.2M437.2 1023H437.2M437.2 1025.6H437.2M437.2 1023V1025.6M434.5 1025.6H437.2M434.5 1020.3V1025.6M431.9 1023H434.5M431.9 1023V1028.3M429.2 1025.6H431.9M429.2 1017.7V1025.6M423.9 1015H434.5M423.9 1023H429.2M423.9 1015V1023M410.7 1001.8H418.6M410.7 1017.7H423.9M410.7 1001.8V1017.7M405.4 951.4H434.5M405.4 1009.7H410.7M405.4 951.4V1009.7M400.1 988.5H405.4M400.1 938.2V988.5M394.8 962H400.1M434.5 1030.9H437.2M434.5 1033.6H437.2M434.5 1030.9V1033.6M431.9 1036.2H437.2M437.2 1038.9H437.2M437.2 1041.5H437.2M437.2 1038.9V1041.5M437.2 1044.2H437.2M437.2 1041.5V1044.2M434.5 1046.8H437.2M434.5 1041.5H437.2M434.5 1041.5V1046.8M431.9 1044.2H434.5M431.9 1036.2V1044.2M429.2 1033.6H434.5M429.2 1041.5H431.9M429.2 1033.6V1041.5M434.5 1049.5H437.2M434.5 1052.1H437.2M434.5 1049.5V1052.1M431.9 1054.8H437.2M431.9 1054.8H431.9M431.9 1052.1H434.5M431.9 1052.1V1054.8M434.5 1057.4H437.2M434.5 1060.1H437.2M434.5 1057.4V1060.1M431.9 1060.1H434.5M431.9 1060.1V1062.7M426.6 1054.8H431.9M426.6 1062.7H431.9M426.6 1054.8V1062.7M431.9 1065.4H437.2M431.9 1068H437.2M431.9 1068H431.9M434.5 1070.7H437.2M437.2 1073.3H437.2M437.2 1076H437.2M437.2 1078.6H437.2M437.2 1076V1078.6M437.2 1073.3V1078.6M434.5 1076H437.2M434.5 1070.7V1076M431.9 1073.3H434.5M431.9 1068V1073.3M437.2 1081.3H437.2M437.2 1083.9H437.2M437.2 1081.3V1083.9M434.5 1086.6H437.2M434.5 1083.9H437.2M434.5 1083.9V1086.6M434.5 1091.9H437.2M437.2 1094.5H437.2M437.2 1097.2H437.2M437.2 1094.5V1097.2M434.5 1094.5H437.2M434.5 1091.9V1094.5M431.9 1086.6H434.5M431.9 1091.9H434.5M431.9 1086.6V1091.9M429.2 1070.7H431.9M429.2 1089.2H431.9M429.2 1070.7V1089.2M426.6 1081.3H429.2M426.6 1065.4V1081.3M423.9 1057.4H426.6M423.9 1073.3H426.6M423.9 1057.4V1073.3M431.9 1099.8H437.2M421.3 1065.4H423.9M421.3 1065.4V1099.8M410.7 1036.2H429.2M410.7 1081.3H421.3M410.7 1036.2V1081.3M410.7 1081.3V1081.3M397.4 1081.3H410.7M431.9 1102.5H437.2M431.9 1105.1H437.2M431.9 1107.8H437.2M431.9 1110.4H437.2M431.9 1110.4H431.9M437.2 1110.4H437.2M437.2 1113.1H437.2M437.2 1110.4V1113.1M434.5 1115.7H437.2M434.5 1113.1H437.2M434.5 1113.1V1115.7M431.9 1115.7H434.5M431.9 1110.4V1115.7M431.9 1118.4H437.2M429.2 1118.4H431.9M434.5 1121H437.2M437.2 1123.7H437.2M437.2 1126.3H437.2M437.2 1123.7V1126.3M437.2 1129H437.2M437.2 1126.3V1129M434.5 1129H437.2M434.5 1121V1129M434.5 1131.6H437.2M437.2 1134.3H437.2M437.2 1136.9H437.2M437.2 1134.3V1136.9M434.5 1136.9H437.2M434.5 1131.6V1136.9M431.9 1126.3H434.5M431.9 1134.3H434.5M431.9 1126.3V1134.3M429.2 1129H431.9M429.2 1118.4V1129M423.9 1113.1H431.9M423.9 1123.7H429.2M423.9 1113.1V1123.7M421.3 1118.4H423.9M421.3 1107.8V1118.4M418.6 1113.1H421.3M418.6 1105.1V1113.1M413.3 1107.8H418.6M413.3 1102.5V1107.8M431.9 1139.6H437.2M434.5 1142.2H437.2M434.5 1144.9H437.2M434.5 1142.2V1144.9M437.2 1147.5H437.2M437.2 1150.2H437.2M437.2 1147.5V1150.2M434.5 1152.8H437.2M434.5 1150.2H437.2M434.5 1150.2V1152.8M431.9 1144.9H434.5M431.9 1152.8H434.5M431.9 1144.9V1152.8M429.2 1147.5H431.9M429.2 1139.6V1147.5M434.5 1155.5H437.2M434.5 1155.5V1158.1M421.3 1144.9H429.2M421.3 1158.1H434.5M421.3 1144.9V1158.1M410.7 1105.1H413.3M410.7 1150.2H421.3M410.7 1105.1V1150.2M397.4 1147.5H410.7M397.4 1081.3V1147.5M394.8 1115.7H397.4M394.8 962V1115.7M389.5 1038.9H394.8M389.5 919.6V1038.9M373.6 977.9H389.5M434.5 1160.8H437.2M434.5 1163.4H437.2M434.5 1160.8V1163.4M434.5 1166.1H437.2M434.5 1168.7H437.2M434.5 1166.1V1168.7M400.1 1163.4H434.5M400.1 1168.7H434.5M400.1 1163.4V1168.7M400.1 1160.8V1163.4M386.8 1160.8H400.1M431.9 1171.4H437.2M426.6 1171.4H431.9M429.2 1174H431.9M431.9 1176.7H437.2M434.5 1179.3H437.2M437.2 1182H437.2M437.2 1184.6H437.2M437.2 1187.3H437.2M437.2 1189.9H437.2M437.2 1187.3V1189.9M437.2 1184.6V1187.3M437.2 1192.6H437.2M437.2 1195.2H437.2M437.2 1192.6V1195.2M437.2 1197.9H437.2M437.2 1200.5H437.2M437.2 1203.2H437.2M437.2 1205.8H437.2M437.2 1203.2V1205.8M437.2 1200.5V1203.2M437.2 1197.9V1203.2M437.2 1192.6V1200.5M437.2 1208.5H437.2M437.2 1197.9V1208.5M437.2 1187.3V1203.2M437.2 1182V1195.2M434.5 1187.3H437.2M434.5 1179.3V1187.3M431.9 1184.6H434.5M431.9 1176.7V1184.6M429.2 1179.3H431.9M429.2 1174V1179.3M426.6 1176.7H429.2M426.6 1171.4V1176.7M431.9 1211.1H437.2M423.9 1174H426.6M423.9 1174V1211.1M434.5 1213.8H437.2M434.5 1216.4H437.2M434.5 1213.8V1216.4M431.9 1219.1H437.2M434.5 1224.4H437.2M434.5 1221.7V1224.4M431.9 1227H437.2M431.9 1221.7H434.5M431.9 1221.7V1227M429.2 1224.4H431.9M429.2 1219.1V1224.4M426.6 1213.8H434.5M426.6 1221.7H429.2M426.6 1213.8V1221.7M431.9 1229.7H437.2M423.9 1219.1H426.6M423.9 1219.1V1229.7M410.7 1192.6H423.9M410.7 1224.4H423.9M410.7 1192.6V1224.4M397.4 1203.2H410.7M431.9 1232.3H437.2M431.9 1235H437.2M434.5 1237.6H437.2M437.2 1240.3H437.2M437.2 1242.9H437.2M437.2 1245.6H437.2M437.2 1242.9V1245.6M437.2 1248.2H437.2M437.2 1250.9H437.2M437.2 1248.2V1250.9M437.2 1242.9V1248.2M437.2 1240.3V1245.6M434.5 1242.9H437.2M434.5 1237.6V1242.9M431.9 1240.3H434.5M431.9 1235V1240.3M431.9 1253.5H437.2M429.2 1253.5H431.9M429.2 1237.6H431.9M429.2 1237.6V1253.5M426.6 1245.6H429.2M426.6 1232.3V1245.6M434.5 1256.2H437.2M434.5 1258.8H437.2M434.5 1256.2V1258.8M431.9 1261.5H437.2M431.9 1261.5H431.9M437.2 1264.1H437.2M437.2 1266.8H437.2M437.2 1264.1V1266.8M434.5 1269.4H437.2M434.5 1264.1H437.2M434.5 1264.1V1269.4M431.9 1266.8H434.5M431.9 1261.5V1266.8M434.5 1272.1H437.2M434.5 1274.7H437.2M434.5 1272.1V1274.7M437.2 1280H437.2M437.2 1277.4V1280M434.5 1282.7H437.2M434.5 1277.4H437.2M434.5 1277.4V1282.7M431.9 1272.1H434.5M431.9 1280H434.5M431.9 1272.1V1280M429.2 1264.1H431.9M429.2 1274.7H431.9M429.2 1264.1V1274.7M426.6 1256.2H434.5M426.6 1269.4H429.2M426.6 1256.2V1269.4M423.9 1237.6H426.6M423.9 1264.1H426.6M423.9 1237.6V1264.1M431.9 1285.3H437.2M421.3 1285.3H431.9M421.3 1250.9H423.9M421.3 1250.9V1285.3M431.9 1288H437.2M431.9 1290.6H437.2M434.5 1293.3H437.2M434.5 1293.3V1295.9M437.2 1298.6H437.2M437.2 1301.2H437.2M437.2 1298.6V1301.2M434.5 1303.9H437.2M434.5 1298.6H437.2M434.5 1298.6V1303.9M431.9 1293.3H434.5M431.9 1301.2H434.5M431.9 1293.3V1301.2M431.9 1306.5H437.2M429.2 1295.9H431.9M429.2 1295.9V1306.5M426.6 1301.2H429.2M426.6 1290.6V1301.2M431.9 1309.2H437.2M423.9 1295.9H426.6M423.9 1295.9V1309.2M431.9 1311.8H437.2M421.3 1301.2H423.9M421.3 1301.2V1311.8M418.6 1306.5H421.3M418.6 1288V1306.5M402.7 1266.8H421.3M402.7 1295.9H418.6M402.7 1266.8V1295.9M397.4 1295.9H402.7M397.4 1203.2V1295.9M386.8 1248.2H397.4M386.8 1160.8V1248.2M373.6 1205.8H386.8M373.6 977.9V1205.8M365.6 1091.9H373.6M365.6 906.4V1091.9M363 999.1H365.6M363 890.5V999.1M352.4 946.1H363M352.4 871.9V946.1M333.8 909H352.4M431.9 1314.5H437.2M397.4 1314.5H431.9M431.9 1317.1H437.2M429.2 1317.1H431.9M434.5 1319.8H437.2M434.5 1322.4H437.2M434.5 1319.8V1322.4M429.2 1322.4H434.5M429.2 1317.1V1322.4M431.9 1325.1H437.2M429.2 1325.1H431.9M431.9 1327.7H437.2M431.9 1327.7H431.9M434.5 1330.4H437.2M434.5 1333H437.2M434.5 1330.4V1333M431.9 1333H434.5M431.9 1327.7V1333M429.2 1330.4H431.9M429.2 1325.1V1330.4M423.9 1319.8H429.2M423.9 1327.7H429.2M423.9 1319.8V1327.7M421.3 1325.1H423.9M421.3 1317.1V1325.1M397.4 1319.8H421.3M397.4 1314.5V1319.8M397.4 1319.8V1322.4M370.9 1322.4H397.4M437.2 1338.3H437.2M437.2 1341H437.2M437.2 1338.3V1341M434.5 1341H437.2M434.5 1335.7V1341M431.9 1343.6H437.2M431.9 1343.6H431.9M431.9 1338.3H434.5M431.9 1338.3V1343.6M431.9 1346.3H437.2M429.2 1346.3H431.9M429.2 1341H431.9M429.2 1341V1346.3M431.9 1348.9H437.2M426.6 1343.6H429.2M426.6 1343.6V1348.9M431.9 1351.6H437.2M423.9 1351.6H431.9M423.9 1346.3H426.6M423.9 1346.3V1351.6M431.9 1354.2H437.2M431.9 1354.2H431.9M434.5 1356.9H437.2M437.2 1359.5H437.2M437.2 1362.2H437.2M437.2 1359.5V1362.2M434.5 1362.2H437.2M434.5 1356.9V1362.2M431.9 1359.5H434.5M431.9 1354.2V1359.5M431.9 1364.8H437.2M434.5 1367.5H437.2M437.2 1370.1H437.2M437.2 1372.8H437.2M437.2 1370.1V1372.8M437.2 1375.4H437.2M437.2 1378.1H437.2M437.2 1375.4V1378.1M437.2 1372.8V1378.1M437.2 1380.7H437.2M437.2 1383.4H437.2M437.2 1380.7V1383.4M437.2 1386H437.2M437.2 1383.4V1386M437.2 1388.7H437.2M437.2 1383.4V1388.7M437.2 1375.4V1386M434.5 1380.7H437.2M434.5 1367.5V1380.7M431.9 1375.4H434.5M431.9 1364.8V1375.4M431.9 1391.3H437.2M429.2 1370.1H431.9M429.2 1370.1V1391.3M431.9 1394H437.2M426.6 1380.7H429.2M426.6 1380.7V1394M423.9 1356.9H431.9M423.9 1386H426.6M423.9 1356.9V1386M431.9 1396.6H437.2M421.3 1396.6H431.9M421.3 1372.8H423.9M421.3 1372.8V1396.6M402.7 1348.9H423.9M402.7 1383.4H421.3M402.7 1348.9V1383.4M384.2 1372.8H402.7M434.5 1399.3H437.2M434.5 1401.9H437.2M434.5 1399.3V1401.9M434.5 1404.6H437.2M437.2 1407.2H437.2M437.2 1409.9H437.2M437.2 1412.5H437.2M437.2 1409.9V1412.5M437.2 1407.2V1409.9M434.5 1409.9H437.2M434.5 1404.6V1409.9M431.9 1415.2H437.2M431.9 1415.2H431.9M431.9 1407.2H434.5M431.9 1407.2V1415.2M431.9 1417.8H437.2M429.2 1417.8H431.9M429.2 1409.9H431.9M429.2 1409.9V1417.8M434.5 1420.5H437.2M434.5 1423.1H437.2M434.5 1420.5V1423.1M431.9 1425.8H437.2M429.2 1420.5H434.5M429.2 1420.5V1425.8M426.6 1415.2H429.2M426.6 1423.1H429.2M426.6 1415.2V1423.1M423.9 1401.9H434.5M423.9 1417.8H426.6M423.9 1401.9V1417.8M434.5 1428.4H437.2M434.5 1431.1H437.2M434.5 1428.4V1431.1M431.9 1433.7H437.2M429.2 1433.7H431.9M434.5 1436.4H437.2M434.5 1439H437.2M434.5 1436.4V1439M429.2 1436.4H434.5M429.2 1433.7V1436.4M426.6 1428.4H434.5M426.6 1436.4H429.2M426.6 1428.4V1436.4M408 1409.9H423.9M408 1433.7H426.6M408 1409.9V1433.7M397.4 1417.8H408M431.9 1441.7H437.2M421.3 1441.7H431.9M431.9 1444.3H437.2M434.5 1447H437.2M434.5 1449.6H437.2M434.5 1447V1449.6M431.9 1447H434.5M431.9 1444.3V1447M431.9 1452.3H437.2M429.2 1452.3H431.9M429.2 1447H431.9M429.2 1447V1452.3M434.5 1454.9H437.2M434.5 1457.6H437.2M434.5 1454.9V1457.6M431.9 1460.2H437.2M429.2 1454.9H434.5M429.2 1454.9V1460.2M426.6 1449.6H429.2M426.6 1457.6H429.2M426.6 1449.6V1457.6M431.9 1462.9H437.2M431.9 1462.9H431.9M434.5 1465.5H437.2M437.2 1468.2H437.2M437.2 1470.8H437.2M437.2 1468.2V1470.8M434.5 1468.2H437.2M434.5 1465.5V1468.2M431.9 1468.2H434.5M431.9 1462.9V1468.2M423.9 1452.3H426.6M423.9 1465.5H431.9M423.9 1452.3V1465.5M421.3 1460.2H423.9M421.3 1441.7V1460.2M421.3 1460.2V1465.5M397.4 1465.5H421.3M397.4 1417.8V1465.5M384.2 1441.7H397.4M384.2 1372.8V1441.7M370.9 1407.2H384.2M370.9 1322.4V1407.2M344.4 1364.8H370.9M400.1 1473.5H437.2M413.3 1476.1H437.2M413.3 1478.8H437.2M413.3 1476.1V1478.8M400.1 1476.1H413.3M400.1 1473.5V1476.1M416 1481.4H437.2M416 1484.1H437.2M416 1481.4V1484.1M381.5 1476.1H400.1M381.5 1481.4H416M381.5 1476.1V1481.4M363 1478.8H381.5M389.5 1486.7H437.2M410.7 1489.4H437.2M410.7 1492H437.2M410.7 1489.4V1492M400.1 1494.7H437.2M405.4 1497.3H437.2M408 1500H437.2M410.7 1502.6H437.2M410.7 1505.3H437.2M410.7 1502.6V1505.3M408 1502.6H410.7M408 1500V1502.6M405.4 1502.6H408M405.4 1497.3V1502.6M400.1 1500H405.4M400.1 1494.7V1500M397.4 1489.4H410.7M397.4 1497.3H400.1M397.4 1489.4V1497.3M389.5 1494.7H397.4M389.5 1486.7V1494.7M389.5 1507.9H437.2M410.7 1510.6H437.2M418.6 1513.2H437.2M418.6 1515.9H437.2M418.6 1513.2V1515.9M416 1518.5H437.2M416 1513.2H418.6M416 1513.2V1518.5M410.7 1515.9H416M410.7 1510.6V1515.9M410.7 1521.2H437.2M410.7 1523.8H437.2M410.7 1521.2V1523.8M408 1513.2H410.7M408 1521.2H410.7M408 1513.2V1521.2M389.5 1518.5H408M389.5 1507.9V1518.5M378.9 1489.4H389.5M378.9 1513.2H389.5M378.9 1489.4V1513.2M363 1497.3H378.9M363 1478.8V1497.3M344.4 1486.7H363M344.4 1364.8V1486.7M333.8 1425.8H344.4M333.8 909V1425.8M304.7 1166.1H333.8M376.2 1526.5H437.2M402.7 1529.1H437.2M408 1531.8H437.2M416 1534.4H437.2M416 1537.1H437.2M416 1534.4V1537.1M408 1534.4H416M408 1531.8V1534.4M405.4 1539.7H437.2M405.4 1534.4H408M405.4 1534.4V1539.7M402.7 1537.1H405.4M402.7 1529.1V1537.1M386.8 1542.4H437.2M386.8 1531.8H402.7M386.8 1531.8V1542.4M376.2 1537.1H386.8M376.2 1526.5V1537.1M363 1529.1H376.2M434.5 1545H437.2M434.5 1547.7H437.2M434.5 1545V1547.7M434.5 1550.3H437.2M434.5 1553H437.2M434.5 1550.3V1553M426.6 1545H434.5M426.6 1550.3H434.5M426.6 1545V1550.3M431.9 1555.6H437.2M434.5 1558.3H437.2M437.2 1560.9H437.2M437.2 1563.6H437.2M437.2 1560.9V1563.6M434.5 1560.9H437.2M434.5 1558.3V1560.9M434.5 1566.2H437.2M437.2 1568.9H437.2M437.2 1571.5H437.2M437.2 1568.9V1571.5M437.2 1574.2H437.2M437.2 1568.9V1574.2M434.5 1571.5H437.2M434.5 1566.2V1571.5M431.9 1558.3H434.5M431.9 1568.9H434.5M431.9 1558.3V1568.9M431.9 1576.8H437.2M429.2 1576.8H431.9M429.2 1563.6H431.9M429.2 1563.6V1576.8M426.6 1568.9H429.2M426.6 1555.6V1568.9M423.9 1547.7H426.6M423.9 1563.6H426.6M423.9 1547.7V1563.6M431.9 1579.5H437.2M389.5 1579.5H431.9M389.5 1555.6H423.9M389.5 1555.6V1579.5M389.5 1545V1555.6M376.2 1545H389.5M431.9 1582.1H437.2M431.9 1584.8H437.2M423.9 1584.8H431.9M431.9 1587.4H437.2M426.6 1587.4H431.9M434.5 1592.7H437.2M434.5 1590.1V1592.7M431.9 1590.1H434.5M431.9 1590.1V1595.4M437.2 1598H437.2M437.2 1600.7H437.2M437.2 1598V1600.7M437.2 1603.3H437.2M437.2 1606H437.2M437.2 1603.3V1606M437.2 1598V1603.3M437.2 1611.3H437.2M437.2 1608.6V1611.3M437.2 1608.6H437.2M437.2 1608.6V1613.9M434.5 1600.7H437.2M434.5 1611.3H437.2M434.5 1600.7V1611.3M431.9 1616.6H437.2M431.9 1606H434.5M431.9 1606V1616.6M429.2 1592.7H431.9M429.2 1611.3H431.9M429.2 1592.7V1611.3M426.6 1600.7H429.2M426.6 1587.4V1600.7M423.9 1595.4H426.6M423.9 1584.8V1595.4M421.3 1590.1H423.9M421.3 1582.1V1590.1M434.5 1619.2H437.2M434.5 1621.9H437.2M434.5 1619.2V1621.9M397.4 1584.8H421.3M397.4 1619.2H434.5M397.4 1584.8V1619.2M381.5 1600.7H397.4M431.9 1624.5H437.2M392.1 1624.5H431.9M434.5 1627.2H437.2M434.5 1627.2V1629.8M437.2 1637.8H437.2M437.2 1635.1V1637.8M434.5 1635.1H437.2M434.5 1632.5V1635.1M431.9 1640.4H437.2M431.9 1632.5H434.5M431.9 1632.5V1640.4M429.2 1627.2H434.5M429.2 1637.8H431.9M429.2 1627.2V1637.8M431.9 1643.1H437.2M434.5 1645.7H437.2M434.5 1648.4H437.2M434.5 1645.7V1648.4M431.9 1645.7H434.5M431.9 1643.1V1645.7M431.9 1651H437.2M429.2 1651H431.9M429.2 1645.7H431.9M429.2 1645.7V1651M418.6 1632.5H429.2M418.6 1648.4H429.2M418.6 1632.5V1648.4M392.1 1640.4H418.6M392.1 1624.5V1640.4M381.5 1635.1H392.1M381.5 1600.7V1635.1M376.2 1616.6H381.5M376.2 1545V1616.6M363 1582.1H376.2M363 1529.1V1582.1M347.1 1555.6H363M434.5 1653.7H437.2M434.5 1656.3H437.2M434.5 1653.7V1656.3M431.9 1659H437.2M429.2 1653.7H434.5M429.2 1653.7V1659M363 1656.3H429.2M431.9 1661.6H437.2M431.9 1664.3H437.2M434.5 1666.9H437.2M437.2 1669.6H437.2M437.2 1672.2H437.2M437.2 1669.6V1672.2M434.5 1669.6H437.2M434.5 1666.9V1669.6M431.9 1674.9H437.2M429.2 1674.9H431.9M429.2 1666.9H434.5M429.2 1666.9V1674.9M426.6 1672.2H429.2M426.6 1664.3V1672.2M431.9 1677.5H437.2M423.9 1666.9H426.6M423.9 1666.9V1677.5M431.9 1680.2H437.2M431.9 1682.8H437.2M431.9 1682.8H431.9M437.2 1685.5H437.2M437.2 1688.1V1690.8M437.2 1688.1H437.2M437.2 1685.5V1688.1M434.5 1693.4H437.2M434.5 1688.1H437.2M434.5 1688.1V1693.4M431.9 1690.8H434.5M431.9 1682.8V1690.8M431.9 1696.1H437.2M429.2 1685.5H431.9M429.2 1685.5V1696.1M426.6 1690.8H429.2M426.6 1680.2V1690.8M431.9 1698.7H437.2M423.9 1685.5H426.6M423.9 1685.5V1698.7M418.6 1672.2H423.9M418.6 1690.8H423.9M418.6 1672.2V1690.8M386.8 1682.8H418.6M386.8 1661.6V1682.8M370.9 1664.3H386.8M434.5 1701.4H437.2M434.5 1704H437.2M434.5 1701.4V1704M431.9 1706.7H437.2M431.9 1706.7H431.9M434.5 1709.3H437.2M434.5 1712H437.2M434.5 1709.3V1712M431.9 1709.3H434.5M431.9 1706.7V1709.3M426.6 1701.4H434.5M426.6 1709.3H431.9M426.6 1701.4V1709.3M434.5 1714.6H437.2M434.5 1717.3H437.2M434.5 1714.6V1717.3M434.5 1719.9H437.2M434.5 1722.6H437.2M434.5 1719.9V1722.6M431.9 1725.2H437.2M431.9 1719.9H434.5M431.9 1719.9V1725.2M431.9 1727.9H437.2M434.5 1730.5H437.2M434.5 1733.2H437.2M434.5 1730.5V1733.2M431.9 1730.5H434.5M431.9 1727.9V1730.5M429.2 1722.6H431.9M429.2 1730.5H431.9M429.2 1722.6V1730.5M434.5 1735.8H437.2M437.2 1738.5H437.2M437.2 1741.1H437.2M437.2 1738.5V1741.1M434.5 1738.5H437.2M434.5 1735.8V1738.5M426.6 1725.2H429.2M426.6 1738.5H434.5M426.6 1725.2V1738.5M431.9 1743.8H437.2M431.9 1746.4H437.2M434.5 1749.1H437.2M434.5 1751.7H437.2M434.5 1749.1V1751.7M431.9 1749.1H434.5M431.9 1746.4V1749.1M434.5 1754.4H437.2M437.2 1757H437.2M437.2 1759.7H437.2M437.2 1757V1759.7M434.5 1757H437.2M434.5 1754.4V1757M434.5 1762.3H437.2M434.5 1765H437.2M434.5 1762.3V1765M431.9 1754.4H434.5M431.9 1762.3H434.5M431.9 1754.4V1762.3M429.2 1749.1H431.9M429.2 1759.7H431.9M429.2 1749.1V1759.7M426.6 1754.4H429.2M426.6 1743.8V1754.4M423.9 1730.5H426.6M423.9 1749.1H426.6M423.9 1730.5V1749.1M421.3 1714.6H434.5M421.3 1741.1H423.9M421.3 1714.6V1741.1M431.9 1767.6H437.2M423.9 1767.6H431.9M431.9 1770.3H437.2M431.9 1772.9H437.2M437.2 1775.6H437.2M437.2 1778.2H437.2M437.2 1780.9H437.2M437.2 1783.5H437.2M437.2 1786.2H437.2M437.2 1783.5V1786.2M437.2 1788.8H437.2M437.2 1783.5V1788.8M437.2 1780.9V1786.2M437.2 1791.5H437.2M437.2 1783.5V1791.5M437.2 1778.2V1786.2M437.2 1794.1H437.2M437.2 1796.8H437.2M437.2 1794.1V1796.8M437.2 1799.4H437.2M437.2 1794.1V1799.4M437.2 1796.8V1802.1M437.2 1780.9V1799.4M437.2 1775.6V1791.5M434.5 1804.7H437.2M434.5 1783.5H437.2M434.5 1783.5V1804.7M431.9 1794.1H434.5M431.9 1772.9V1794.1M431.9 1807.4H437.2M429.2 1783.5H431.9M429.2 1783.5V1807.4M426.6 1794.1H429.2M426.6 1770.3V1794.1M423.9 1780.9H426.6M423.9 1767.6V1780.9M421.3 1807.4H431.9M421.3 1775.6H423.9M421.3 1775.6V1807.4M418.6 1727.9H421.3M418.6 1791.5H421.3M418.6 1727.9V1791.5M402.7 1706.7H426.6M402.7 1759.7H418.6M402.7 1706.7V1759.7M381.5 1759.7H402.7M434.5 1810H437.2M434.5 1815.3H437.2M434.5 1810V1815.3M434.5 1818H437.2M434.5 1820.6H437.2M434.5 1818V1820.6M431.9 1823.3H437.2M431.9 1818H434.5M431.9 1818V1823.3M437.2 1825.9H437.2M437.2 1828.6H437.2M437.2 1825.9V1828.6M434.5 1825.9H437.2M434.5 1825.9V1831.2M437.2 1833.9H437.2M437.2 1836.5H437.2M437.2 1833.9V1836.5M434.5 1839.2H437.2M434.5 1833.9H437.2M434.5 1833.9V1839.2M434.5 1841.8H437.2M434.5 1844.5H437.2M434.5 1841.8V1844.5M431.9 1836.5H434.5M431.9 1841.8H434.5M431.9 1836.5V1841.8M431.9 1847.1H437.2M431.9 1847.1H431.9M437.2 1849.8H437.2M437.2 1852.4H437.2M437.2 1855.1H437.2M437.2 1852.4V1855.1M437.2 1849.8V1852.4M434.5 1857.7H437.2M434.5 1849.8H437.2M434.5 1849.8V1857.7M431.9 1855.1H434.5M431.9 1847.1V1855.1M429.2 1839.2H431.9M429.2 1849.8H431.9M429.2 1839.2V1849.8M434.5 1860.4H437.2M437.2 1863H437.2M437.2 1865.7H437.2M437.2 1868.3H437.2M437.2 1871H437.2M437.2 1868.3V1871M437.2 1865.7V1868.3M437.2 1863V1865.7M434.5 1865.7H437.2M434.5 1860.4V1865.7M431.9 1873.6H437.2M431.9 1863H434.5M431.9 1863V1873.6M437.2 1876.3H437.2M437.2 1878.9H437.2M437.2 1881.6H437.2M437.2 1884.2H437.2M437.2 1881.6V1884.2M437.2 1886.9H437.2M437.2 1881.6V1886.9M437.2 1878.9V1884.2M437.2 1876.3V1881.6M434.5 1889.5H437.2M434.5 1878.9H437.2M434.5 1878.9V1889.5M431.9 1892.2H437.2M431.9 1892.2H431.9M431.9 1884.2H434.5M431.9 1884.2V1892.2M429.2 1868.3H431.9M429.2 1886.9H431.9M429.2 1868.3V1886.9M426.6 1844.5H429.2M426.6 1876.3H429.2M426.6 1844.5V1876.3M434.5 1897.5H437.2M437.2 1900.1H437.2M437.2 1902.8H437.2M437.2 1905.4H437.2M437.2 1908.1H437.2M437.2 1905.4V1908.1M437.2 1913.4H437.2M437.2 1910.7V1913.4M437.2 1916H437.2M437.2 1910.7H437.2M437.2 1910.7V1916M437.2 1918.7H437.2M437.2 1913.4V1918.7M437.2 1905.4V1916M437.2 1902.8V1910.7M437.2 1900.1V1905.4M434.5 1902.8H437.2M434.5 1897.5V1902.8M431.9 1900.1H434.5M431.9 1894.8V1900.1M431.9 1921.3H437.2M429.2 1921.3H431.9M429.2 1897.5H431.9M429.2 1897.5V1921.3M431.9 1924H437.2M426.6 1924H431.9M426.6 1908.1H429.2M426.6 1908.1V1924M423.9 1860.4H426.6M423.9 1916H426.6M423.9 1860.4V1916M421.3 1828.6H434.5M421.3 1889.5H423.9M421.3 1828.6V1889.5M418.6 1820.6H431.9M418.6 1857.7H421.3M418.6 1820.6V1857.7M400.1 1812.7H434.5M400.1 1839.2H418.6M400.1 1812.7V1839.2M400.1 1839.2V1889.5M381.5 1889.5H400.1M381.5 1759.7V1889.5M370.9 1823.3H381.5M370.9 1664.3V1823.3M363 1743.8H370.9M363 1656.3V1743.8M349.7 1698.7H363M434.5 1926.6H437.2M434.5 1929.3H437.2M434.5 1926.6V1929.3M431.9 1931.9H437.2M431.9 1931.9H431.9M437.2 1934.6H437.2M437.2 1937.2H437.2M437.2 1934.6V1937.2M434.5 1939.9H437.2M434.5 1934.6H437.2M434.5 1934.6V1939.9M431.9 1937.2H434.5M431.9 1931.9V1937.2M426.6 1926.6H434.5M426.6 1934.6H431.9M426.6 1926.6V1934.6M431.9 1942.5H437.2M434.5 1947.8H437.2M434.5 1945.2V1947.8M437.2 1950.5H437.2M437.2 1953.1H437.2M437.2 1950.5V1953.1M437.2 1955.8H437.2M437.2 1958.4H437.2M437.2 1955.8V1958.4M437.2 1961.1H437.2M437.2 1955.8V1961.1M437.2 1950.5V1958.4M434.5 1963.7H437.2M434.5 1955.8H437.2M434.5 1955.8V1963.7M431.9 1945.2H434.5M431.9 1958.4H434.5M431.9 1945.2V1958.4M429.2 1953.1H431.9M429.2 1942.5V1953.1M431.9 1966.4H437.2M426.6 1947.8H429.2M426.6 1947.8V1966.4M431.9 1969H437.2M423.9 1969H431.9M423.9 1955.8H426.6M423.9 1955.8V1969M431.9 1971.7H437.2M421.3 1963.7H423.9M421.3 1963.7V1971.7M434.5 1974.3H437.2M434.5 1977H437.2M434.5 1974.3V1977M437.2 1979.6H437.2M437.2 1982.3H437.2M437.2 1979.6V1982.3M434.5 1984.9H437.2M434.5 1982.3H437.2M434.5 1982.3V1984.9M431.9 1987.6H437.2M431.9 1982.3H434.5M431.9 1982.3V1987.6M429.2 1977H434.5M429.2 1984.9H431.9M429.2 1977V1984.9M431.9 1990.2H437.2M426.6 1979.6H429.2M426.6 1979.6V1990.2M418.6 1966.4H421.3M418.6 1984.9H426.6M418.6 1966.4V1984.9M416 1931.9H426.6M416 1977H418.6M416 1931.9V1977M434.5 1992.9H437.2M434.5 1992.9V1995.5M397.4 1953.1H416M397.4 1995.5H434.5M397.4 1953.1V1995.5M397.4 1953.1V1953.1M389.5 1953.1H397.4M431.9 1998.2H437.2M431.9 2000.8H437.2M405.4 1998.2V2000.8M397.4 1998.2H405.4M434.5 2003.5H437.2M434.5 2006.1H437.2M434.5 2003.5V2006.1M437.2 2008.8H437.2M437.2 2011.4H437.2M437.2 2008.8V2011.4M434.5 2014.1H437.2M434.5 2011.4H437.2M434.5 2011.4V2014.1M431.9 2016.7H437.2M431.9 2014.1H434.5M431.9 2014.1V2016.7M429.2 2006.1H434.5M429.2 2014.1H431.9M429.2 2006.1V2014.1M431.9 2019.4H437.2M421.3 2019.4H431.9M421.3 2011.4H429.2M421.3 2011.4V2019.4M431.9 2022H437.2M431.9 2024.7H437.2M437.2 2030H437.2M437.2 2032.6H437.2M437.2 2030V2032.6M437.2 2027.3V2032.6M434.5 2035.3H437.2M434.5 2030H437.2M434.5 2030V2035.3M431.9 2032.6H434.5M431.9 2024.7V2032.6M429.2 2030H431.9M429.2 2022V2030M434.5 2037.9H437.2M434.5 2040.6H437.2M434.5 2037.9V2040.6M431.9 2043.2H437.2M429.2 2043.2H431.9M429.2 2040.6H434.5M429.2 2040.6V2043.2M426.6 2027.3H429.2M426.6 2043.2H429.2M426.6 2027.3V2043.2M431.9 2045.9H437.2M431.9 2048.5H437.2M434.5 2051.2H437.2M434.5 2053.8H437.2M434.5 2051.2V2053.8M429.2 2053.8H434.5M429.2 2048.5V2053.8M426.6 2051.2H429.2M426.6 2045.9V2051.2M431.9 2056.5H437.2M431.9 2059.1H437.2M437.2 2061.8H437.2M437.2 2064.4H437.2M437.2 2061.8V2064.4M434.5 2067.1H437.2M434.5 2064.4H437.2M434.5 2064.4V2067.1M431.9 2067.1H434.5M431.9 2059.1V2067.1M429.2 2061.8H431.9M429.2 2056.5V2061.8M431.9 2069.7H437.2M434.5 2072.4H437.2M434.5 2075H437.2M434.5 2072.4V2075M431.9 2075H434.5M431.9 2069.7V2075M426.6 2059.1H429.2M426.6 2072.4H431.9M426.6 2059.1V2072.4M431.9 2077.7H437.2M437.2 2080.3H437.2M437.2 2083H437.2M437.2 2080.3V2083M434.5 2085.6H437.2M434.5 2083H437.2M434.5 2083V2085.6M437.2 2088.3H437.2M437.2 2090.9H437.2M437.2 2090.9V2093.6M437.2 2093.6H437.2M437.2 2088.3V2093.6M434.5 2096.2H437.2M434.5 2090.9H437.2M434.5 2090.9V2096.2M431.9 2085.6H434.5M431.9 2093.6H434.5M431.9 2085.6V2093.6M429.2 2088.3H431.9M429.2 2077.7V2088.3M431.9 2098.9H437.2M426.6 2083H429.2M426.6 2083V2098.9M423.9 2067.1H426.6M423.9 2090.9H426.6M423.9 2067.1V2090.9M431.9 2101.5H437.2M434.5 2104.2H437.2M437.2 2106.8H437.2M437.2 2109.5H437.2M437.2 2112.1H437.2M437.2 2114.8H437.2M437.2 2117.4H437.2M437.2 2114.8V2117.4M437.2 2112.1V2117.4M437.2 2120.1H437.2M437.2 2122.7H437.2M437.2 2125.4H437.2M437.2 2122.7V2125.4M437.2 2120.1V2125.4M437.2 2114.8V2122.7M437.2 2109.5V2117.4M437.2 2106.8V2114.8M434.5 2112.1H437.2M434.5 2104.2V2112.1M431.9 2128H437.2M431.9 2128H431.9M431.9 2106.8H434.5M431.9 2106.8V2128M429.2 2117.4H431.9M429.2 2101.5V2117.4M437.2 2130.7H437.2M437.2 2133.3H437.2M437.2 2130.7V2133.3M437.2 2136H437.2M437.2 2133.3V2136M437.2 2138.6H437.2M437.2 2141.3H437.2M437.2 2143.9H437.2M437.2 2141.3V2143.9M437.2 2138.6V2143.9M437.2 2146.6H437.2M437.2 2141.3V2146.6M437.2 2133.3V2143.9M437.2 2149.2H437.2M437.2 2151.9H437.2M437.2 2154.5H437.2M437.2 2151.9V2154.5M437.2 2157.2H437.2M437.2 2159.8H437.2M437.2 2157.2V2159.8M437.2 2154.5V2159.8M437.2 2162.5H437.2M437.2 2157.2V2162.5M437.2 2165.1H437.2M437.2 2159.8V2165.1M437.2 2149.2V2162.5M437.2 2167.8H437.2M437.2 2157.2V2167.8M434.5 2138.6H437.2M434.5 2162.5H437.2M434.5 2138.6V2162.5M431.9 2170.4H437.2M431.9 2151.9H434.5M431.9 2151.9V2170.4M434.5 2173.1H437.2M434.5 2175.7H437.2M434.5 2173.1V2175.7M429.2 2159.8H431.9M429.2 2175.7H434.5M429.2 2159.8V2175.7M426.6 2109.5H429.2M426.6 2167.8H429.2M426.6 2109.5V2167.8M431.9 2178.4H437.2M431.9 2181H437.2M437.2 2183.7H437.2M437.2 2186.3H437.2M437.2 2183.7V2186.3M437.2 2186.3V2189M437.2 2191.6H437.2M437.2 2194.3H437.2M437.2 2191.6V2194.3M437.2 2186.3V2194.3M437.2 2196.9H437.2M437.2 2199.6H437.2M437.2 2202.2H437.2M437.2 2204.9H437.2M437.2 2202.2V2204.9M437.2 2199.6V2204.9M437.2 2196.9V2202.2M434.5 2191.6H437.2M434.5 2199.6H437.2M434.5 2191.6V2199.6M431.9 2194.3H434.5M431.9 2181V2194.3M431.9 2207.5H437.2M429.2 2207.5H431.9M429.2 2189H431.9M429.2 2189V2207.5M426.6 2196.9H429.2M426.6 2178.4V2196.9M423.9 2138.6H426.6M423.9 2189H426.6M423.9 2138.6V2189M421.3 2077.7H423.9M421.3 2165.1H423.9M421.3 2077.7V2165.1M418.6 2048.5H426.6M418.6 2120.1H421.3M418.6 2048.5V2120.1M431.9 2210.2H437.2M416 2210.2H431.9M416 2085.6H418.6M416 2085.6V2210.2M410.7 2035.3H426.6M410.7 2149.2H416M410.7 2035.3V2149.2M405.4 2014.1H421.3M405.4 2090.9H410.7M405.4 2014.1V2090.9M405.4 2090.9V2098.9M397.4 2098.9H405.4M397.4 1998.2V2098.9M389.5 2048.5H397.4M389.5 1953.1V2048.5M378.9 2000.8H389.5M431.9 2212.8H437.2M418.6 2212.8H431.9M423.9 2215.5H431.9M431.9 2218.1H437.2M431.9 2218.1H431.9M434.5 2220.8H437.2M434.5 2223.4H437.2M434.5 2220.8V2223.4M431.9 2223.4H434.5M431.9 2218.1V2223.4M434.5 2226.1H437.2M434.5 2228.7H437.2M434.5 2226.1V2228.7M429.2 2220.8H431.9M429.2 2228.7H434.5M429.2 2220.8V2228.7M434.5 2231.4H437.2M434.5 2234H437.2M434.5 2231.4V2234M426.6 2223.4H429.2M426.6 2234H434.5M426.6 2223.4V2234M423.9 2228.7H426.6M423.9 2215.5V2228.7M418.6 2223.4H423.9M418.6 2212.8V2223.4M389.5 2215.5H418.6M431.9 2236.7H437.2M431.9 2239.3H437.2M434.5 2242H437.2M434.5 2244.6H437.2M434.5 2242V2244.6M434.5 2247.3H437.2M434.5 2249.9H437.2M434.5 2247.3V2249.9M431.9 2244.6H434.5M431.9 2249.9H434.5M431.9 2244.6V2249.9M429.2 2247.3H431.9M429.2 2239.3V2247.3M423.9 2244.6H429.2M423.9 2236.7V2244.6M434.5 2257.9H437.2M434.5 2255.2V2257.9M431.9 2260.5H437.2M429.2 2260.5H431.9M437.2 2263.2H437.2M437.2 2265.8H437.2M437.2 2263.2V2265.8M434.5 2265.8H437.2M434.5 2265.8V2268.5M434.5 2271.1H437.2M437.2 2273.8H437.2M437.2 2276.4H437.2M437.2 2273.8V2276.4M437.2 2279.1H437.2M437.2 2276.4V2279.1M434.5 2279.1H437.2M434.5 2271.1V2279.1M431.9 2268.5H434.5M431.9 2273.8H434.5M431.9 2268.5V2273.8M429.2 2271.1H431.9M429.2 2260.5V2271.1M434.5 2281.7H437.2M437.2 2284.4H437.2M437.2 2287H437.2M437.2 2284.4V2287M434.5 2287H437.2M434.5 2281.7V2287M434.5 2289.7H437.2M437.2 2292.3H437.2M437.2 2297.6H437.2M437.2 2295V2297.6M437.2 2292.3V2297.6M434.5 2295H437.2M434.5 2289.7V2295M431.9 2284.4H434.5M431.9 2292.3H434.5M431.9 2284.4V2292.3M431.9 2300.3H437.2M429.2 2289.7H431.9M429.2 2289.7V2300.3M426.6 2265.8H429.2M426.6 2295H429.2M426.6 2265.8V2295M423.9 2257.9H434.5M423.9 2281.7H426.6M423.9 2257.9V2281.7M421.3 2268.5H423.9M421.3 2252.6V2268.5M431.9 2302.9H437.2M418.6 2260.5H421.3M418.6 2260.5V2302.9M431.9 2305.6H437.2M431.9 2308.2H437.2M429.2 2308.2H431.9M434.5 2310.9H437.2M434.5 2313.5H437.2M434.5 2310.9V2313.5M431.9 2316.2H437.2M431.9 2316.2H431.9M431.9 2313.5H434.5M431.9 2313.5V2316.2M429.2 2316.2H431.9M429.2 2308.2V2316.2M431.9 2318.8H437.2M429.2 2318.8H431.9M434.5 2321.5H437.2M434.5 2324.1H437.2M434.5 2321.5V2324.1M429.2 2324.1H434.5M429.2 2318.8V2324.1M437.2 2326.8H437.2M437.2 2326.8V2329.4M437.2 2332.1H437.2M437.2 2329.4H437.2M437.2 2329.4V2332.1M437.2 2334.7H437.2M437.2 2332.1V2334.7M437.2 2337.4H437.2M437.2 2334.7V2337.4M437.2 2340H437.2M437.2 2342.7H437.2M437.2 2345.3H437.2M437.2 2348H437.2M437.2 2350.6H437.2M437.2 2348V2350.6M437.2 2345.3V2350.6M437.2 2342.7V2348M437.2 2340V2345.3M437.2 2353.3H437.2M437.2 2342.7V2353.3M437.2 2355.9H437.2M437.2 2348V2355.9M437.2 2358.6H437.2M437.2 2353.3V2358.6M437.2 2361.2H437.2M437.2 2355.9V2361.2M437.2 2334.7V2358.6M434.5 2363.9H437.2M434.5 2348H437.2M434.5 2348V2363.9M431.9 2366.5H437.2M431.9 2355.9H434.5M431.9 2355.9V2366.5M434.5 2369.2H437.2M437.2 2371.8H437.2M437.2 2374.5H437.2M437.2 2377.1H437.2M437.2 2379.8H437.2M437.2 2377.1V2379.8M437.2 2382.4H437.2M437.2 2379.8V2382.4M437.2 2387.7H437.2M437.2 2382.4V2387.7M437.2 2385.1H437.2M437.2 2374.5V2385.1M437.2 2371.8V2379.8M434.5 2377.1H437.2M434.5 2369.2V2377.1M437.2 2390.4H437.2M437.2 2393H437.2M437.2 2390.4V2393M434.5 2395.7H437.2M434.5 2390.4H437.2M434.5 2390.4V2395.7M431.9 2374.5H434.5M431.9 2393H434.5M431.9 2374.5V2393M429.2 2361.2H431.9M429.2 2382.4H431.9M429.2 2361.2V2382.4M426.6 2321.5H429.2M426.6 2371.8H429.2M426.6 2321.5V2371.8M431.9 2398.3H437.2M423.9 2348H426.6M423.9 2348V2398.3M421.3 2310.9H429.2M421.3 2371.8H423.9M421.3 2310.9V2371.8M418.6 2342.7H421.3M418.6 2305.6V2342.7M416 2281.7H418.6M416 2324.1H418.6M416 2281.7V2324.1M434.5 2401H437.2M434.5 2401V2403.6M431.9 2406.3H437.2M434.5 2408.9H437.2M434.5 2411.6H437.2M434.5 2408.9V2411.6M431.9 2414.2H437.2M431.9 2408.9H434.5M431.9 2408.9V2414.2M429.2 2411.6H431.9M429.2 2406.3V2411.6M426.6 2401H434.5M426.6 2408.9H429.2M426.6 2401V2408.9M413.3 2302.9H416M413.3 2403.6H426.6M413.3 2302.9V2403.6M405.4 2239.3H423.9M405.4 2353.3H413.3M405.4 2239.3V2353.3M434.5 2416.9H437.2M434.5 2419.5H437.2M434.5 2416.9V2419.5M434.5 2422.2H437.2M434.5 2424.8H437.2M434.5 2422.2V2424.8M431.9 2416.9H434.5M431.9 2422.2H434.5M431.9 2416.9V2422.2M394.8 2297.6H405.4M394.8 2419.5H431.9M394.8 2297.6V2419.5M394.8 2297.6V2297.6M389.5 2297.6H394.8M389.5 2215.5V2297.6M378.9 2257.9H389.5M378.9 2000.8V2257.9M363 2128H378.9M376.2 2427.5H437.2M402.7 2430.1H437.2M405.4 2432.8H405.4M416 2435.4H437.2M418.6 2438.1H437.2M418.6 2440.7H437.2M418.6 2438.1V2440.7M416 2438.1H418.6M416 2435.4V2438.1M413.3 2443.4H413.3M413.3 2435.4H416M413.3 2435.4V2443.4M405.4 2438.1H413.3M405.4 2432.8V2438.1M402.7 2435.4H405.4M402.7 2430.1V2435.4M410.7 2446H437.2M410.7 2448.7H437.2M410.7 2446V2448.7M408 2451.3H437.2M408 2446H410.7M408 2446V2451.3M413.3 2454H437.2M413.3 2456.6H437.2M413.3 2454V2456.6M405.4 2448.7H408M405.4 2454H413.3M405.4 2448.7V2454M402.7 2459.3H437.2M402.7 2451.3H405.4M402.7 2451.3V2459.3M400.1 2461.9H437.2M400.1 2454H402.7M400.1 2454V2461.9M413.3 2464.6H437.2M418.6 2467.2H437.2M421.3 2469.9H437.2M421.3 2472.5H437.2M421.3 2469.9V2472.5M418.6 2469.9H421.3M418.6 2467.2V2469.9M416 2475.2H437.2M416 2467.2H418.6M416 2467.2V2475.2M413.3 2469.9H416M413.3 2464.6V2469.9M410.7 2477.8H437.2M410.7 2467.2H413.3M410.7 2467.2V2477.8M408 2480.5H437.2M408 2472.5H410.7M408 2472.5V2480.5M397.4 2456.6H400.1M397.4 2475.2H408M397.4 2456.6V2475.2M394.8 2432.8H402.7M394.8 2467.2H397.4M394.8 2432.8V2467.2M408 2483.1H437.2M408 2485.8H437.2M408 2483.1V2485.8M405.4 2488.4H437.2M405.4 2483.1H408M405.4 2483.1V2488.4M405.4 2491.1H437.2M418.6 2493.7H437.2M418.6 2496.4H437.2M418.6 2493.7V2496.4M405.4 2493.7H418.6M405.4 2491.1V2493.7M402.7 2485.8H405.4M402.7 2491.1H405.4M402.7 2485.8V2491.1M408 2499H437.2M408 2501.7H437.2M408 2499V2501.7M405.4 2504.3H437.2M405.4 2499H408M405.4 2499V2504.3M405.4 2507H437.2M413.3 2509.6H437.2M413.3 2512.3H437.2M413.3 2509.6V2512.3M416 2514.9H437.2M416 2517.6H437.2M416 2514.9V2517.6M410.7 2509.6H413.3M410.7 2514.9H416M410.7 2509.6V2514.9M410.7 2520.2H437.2M413.3 2522.9H437.2M413.3 2525.5H437.2M413.3 2522.9V2525.5M410.7 2522.9H413.3M410.7 2520.2V2522.9M408 2512.3H410.7M408 2520.2H410.7M408 2512.3V2520.2M405.4 2517.6H408M405.4 2507V2517.6M402.7 2501.7H405.4M402.7 2512.3H405.4M402.7 2501.7V2512.3M400.1 2488.4H402.7M400.1 2507H402.7M400.1 2488.4V2507M392.1 2448.7H394.8M392.1 2496.4H400.1M392.1 2448.7V2496.4M376.2 2472.5H392.1M376.2 2427.5V2472.5M363 2440.7H376.2M363 2128V2440.7M349.7 2284.4H363M349.7 1698.7V2284.4M347.1 1992.9H349.7M347.1 1555.6V1992.9M325.9 1772.9H347.1M344.4 2525.5H437.2M400.1 2528.2H437.2M402.7 2530.8H437.2M405.4 2533.5H437.2M410.7 2536.1H437.2M410.7 2538.8H437.2M410.7 2536.1V2538.8M413.3 2541.4H437.2M413.3 2544.1H437.2M413.3 2541.4V2544.1M408 2538.8H410.7M408 2544.1H413.3M408 2538.8V2544.1M405.4 2541.4H408M405.4 2533.5V2541.4M402.7 2538.8H405.4M402.7 2530.8V2538.8M400.1 2536.1H402.7M400.1 2528.2V2536.1M416 2546.7H437.2M416 2549.4H437.2M416 2546.7V2549.4M416 2552H437.2M418.6 2557.3H437.2M418.6 2560H437.2M418.6 2557.3V2560M416 2557.3H418.6M416 2552V2557.3M408 2549.4H416M408 2554.7H416M408 2549.4V2554.7M376.2 2533.5H400.1M376.2 2552H408M376.2 2533.5V2552M344.4 2541.4H376.2M344.4 2525.5V2541.4M325.9 2533.5H344.4M325.9 1772.9V2533.5M304.7 2154.5H325.9M304.7 1166.1V2154.5M275.5 1661.6H304.7M296.7 2560H437.2M344.4 2562.6H437.2M405.4 2565.3H437.2M408 2567.9H437.2M408 2570.6H437.2M408 2567.9V2570.6M405.4 2570.6H408M405.4 2565.3V2570.6M344.4 2567.9H405.4M344.4 2562.6V2567.9M344.4 2567.9V2567.9M296.7 2567.9H344.4M296.7 2560V2567.9M275.5 2565.3H296.7M275.5 1661.6V2565.3M243.7 2112.1H275.5M389.5 2573.2H437.2M394.8 2575.9H437.2M413.3 2578.5H437.2M416 2581.2H437.2M416 2583.8H437.2M416 2581.2V2583.8M413.3 2583.8H416M413.3 2578.5V2583.8M394.8 2581.2H413.3M394.8 2575.9V2581.2M389.5 2578.5H394.8M389.5 2573.2V2578.5M405.4 2586.5H437.2M410.7 2589.1H437.2M410.7 2591.8H437.2M410.7 2589.1V2591.8M413.3 2594.4H437.2M413.3 2597.1H437.2M413.3 2594.4V2597.1M408 2591.8H410.7M408 2597.1H413.3M408 2591.8V2597.1M405.4 2594.4H408M405.4 2586.5V2594.4M408 2599.7H437.2M416 2602.4H416M416 2605H437.2M416 2602.4V2605M410.7 2607.7H437.2M410.7 2605H416M410.7 2605V2607.7M408 2605H410.7M408 2599.7V2605M402.7 2591.8H405.4M402.7 2602.4H408M402.7 2591.8V2602.4M400.1 2610.3H437.2M400.1 2597.1H402.7M400.1 2597.1V2610.3M373.6 2575.9H389.5M373.6 2605H400.1M373.6 2575.9V2605M325.9 2591.8H373.6M431.9 2613H437.2M429.2 2613H431.9M437.2 2615.6H437.2M437.2 2618.3H437.2M437.2 2620.9H437.2M437.2 2618.3V2620.9M437.2 2623.6H437.2M437.2 2626.2H437.2M437.2 2628.9H437.2M437.2 2626.2V2628.9M437.2 2623.6V2628.9M437.2 2620.9V2626.2M437.2 2615.6V2623.6M434.5 2631.5H437.2M434.5 2618.3H437.2M434.5 2618.3V2631.5M431.9 2634.2H437.2M431.9 2626.2H434.5M431.9 2626.2V2634.2M429.2 2631.5H431.9M429.2 2613V2631.5M431.9 2636.8H437.2M437.2 2642.1H437.2M437.2 2644.8H437.2M437.2 2644.8V2647.4M437.2 2647.4H437.2M437.2 2642.1V2647.4M434.5 2644.8H437.2M434.5 2639.5V2644.8M431.9 2642.1H434.5M431.9 2636.8V2642.1M434.5 2650.1H437.2M434.5 2652.7H437.2M434.5 2650.1V2652.7M429.2 2639.5H431.9M429.2 2652.7H434.5M429.2 2639.5V2652.7M426.6 2620.9H429.2M426.6 2647.4H429.2M426.6 2620.9V2647.4M434.5 2655.4H437.2M434.5 2658H437.2M434.5 2655.4V2658M423.9 2634.2H426.6M423.9 2658H434.5M423.9 2634.2V2658M431.9 2660.7H437.2M421.3 2660.7H431.9M421.3 2644.8H423.9M421.3 2644.8V2660.7M431.9 2663.3H437.2M423.9 2663.3H431.9M431.9 2666H437.2M431.9 2666H431.9M437.2 2668.6H437.2M437.2 2671.3H437.2M437.2 2668.6V2671.3M437.2 2673.9H437.2M437.2 2676.6H437.2M437.2 2673.9V2676.6M434.5 2671.3H437.2M434.5 2676.6H437.2M434.5 2671.3V2676.6M431.9 2673.9H434.5M431.9 2666V2673.9M434.5 2681.9H437.2M434.5 2684.5H437.2M434.5 2681.9V2684.5M431.9 2687.2H437.2M431.9 2687.2H431.9M431.9 2681.9H434.5M431.9 2681.9V2687.2M429.2 2671.3H431.9M429.2 2684.5H431.9M429.2 2671.3V2684.5M431.9 2689.8H437.2M426.6 2689.8H431.9M426.6 2676.6H429.2M426.6 2676.6V2689.8M423.9 2681.9H426.6M423.9 2663.3V2681.9M392.1 2652.7H421.3M392.1 2673.9H423.9M392.1 2652.7V2673.9M392.1 2620.9V2652.7M378.9 2620.9H392.1M434.5 2692.5H437.2M437.2 2695.1H437.2M437.2 2697.8H437.2M437.2 2695.1V2697.8M434.5 2695.1H437.2M434.5 2692.5V2695.1M431.9 2700.4H437.2M431.9 2700.4H431.9M431.9 2692.5H434.5M431.9 2692.5V2700.4M434.5 2703.1H437.2M434.5 2705.7H437.2M434.5 2703.1V2705.7M434.5 2708.4H437.2M434.5 2711H437.2M434.5 2708.4V2711M431.9 2713.7H437.2M431.9 2708.4H434.5M431.9 2708.4V2713.7M429.2 2703.1H434.5M429.2 2711H431.9M429.2 2703.1V2711M431.9 2716.3H437.2M423.9 2708.4H429.2M423.9 2708.4V2716.3M418.6 2695.1H431.9M418.6 2711H423.9M418.6 2695.1V2711M431.9 2719H437.2M431.9 2721.6H437.2M429.2 2721.6H431.9M431.9 2724.3H437.2M437.2 2726.9H437.2M437.2 2729.6H437.2M437.2 2726.9V2729.6M437.2 2732.2H437.2M437.2 2732.2V2734.9M434.5 2726.9H437.2M434.5 2732.2H437.2M434.5 2726.9V2732.2M431.9 2729.6H434.5M431.9 2724.3V2729.6M429.2 2726.9H431.9M429.2 2721.6V2726.9M434.5 2737.5H437.2M434.5 2740.2H437.2M434.5 2737.5V2740.2M426.6 2724.3H429.2M426.6 2737.5H434.5M426.6 2724.3V2737.5M423.9 2732.2H426.6M423.9 2719V2732.2M413.3 2703.1H418.6M413.3 2724.3H423.9M413.3 2703.1V2724.3M431.9 2742.8H437.2M431.9 2745.5H437.2M431.9 2745.5H431.9M437.2 2748.1H437.2M437.2 2750.8H437.2M437.2 2748.1V2750.8M434.5 2753.4H437.2M434.5 2748.1H437.2M434.5 2748.1V2753.4M431.9 2750.8H434.5M431.9 2745.5V2750.8M431.9 2756.1H437.2M434.5 2758.7H437.2M434.5 2761.4H437.2M434.5 2758.7V2761.4M431.9 2764H437.2M431.9 2764H431.9M431.9 2758.7H434.5M431.9 2758.7V2764M429.2 2761.4H431.9M429.2 2756.1V2761.4M426.6 2748.1H431.9M426.6 2758.7H429.2M426.6 2748.1V2758.7M423.9 2753.4H426.6M423.9 2742.8V2753.4M389.5 2713.7H413.3M389.5 2748.1H423.9M389.5 2713.7V2748.1M389.5 2705.7V2713.7M378.9 2705.7H389.5M378.9 2620.9V2705.7M363 2663.3H378.9M408 2766.7H437.2M416 2769.3H416M416 2772H437.2M416 2769.3V2772M416 2774.6H437.2M416 2777.3H437.2M416 2774.6V2777.3M413.3 2769.3H416M413.3 2774.6H416M413.3 2769.3V2774.6M410.7 2779.9H410.7M410.7 2772H413.3M410.7 2772V2779.9M408 2777.3H410.7M408 2766.7V2777.3M400.1 2782.6H437.2M400.1 2772H408M400.1 2772V2782.6M410.7 2785.2H437.2M410.7 2787.9H437.2M410.7 2785.2V2787.9M405.4 2790.5H437.2M416 2793.2H437.2M416 2795.8H437.2M416 2793.2V2795.8M405.4 2795.8H416M405.4 2790.5V2795.8M402.7 2785.2H410.7M402.7 2793.2H405.4M402.7 2785.2V2793.2M400.1 2798.5H437.2M400.1 2790.5H402.7M400.1 2790.5V2798.5M376.2 2777.3H400.1M376.2 2793.2H400.1M376.2 2777.3V2793.2M363 2785.2H376.2M363 2663.3V2785.2M341.8 2724.3H363M397.4 2801.1H437.2M418.6 2803.8H437.2M418.6 2806.4H437.2M418.6 2803.8V2806.4M416 2809.1H437.2M416 2803.8H418.6M416 2803.8V2809.1M397.4 2806.4H416M397.4 2801.1V2806.4M394.8 2811.7H437.2M394.8 2803.8H397.4M394.8 2803.8V2811.7M347.1 2806.4H394.8M413.3 2814.4H437.2M416 2817H437.2M416 2819.7H437.2M416 2817V2819.7M413.3 2817H416M413.3 2814.4V2817M413.3 2822.3H437.2M416 2825H437.2M416 2827.6H437.2M416 2825V2827.6M413.3 2825H416M413.3 2822.3V2825M410.7 2814.4H413.3M410.7 2822.3H413.3M410.7 2814.4V2822.3M408 2827.6H437.2M408 2819.7H410.7M408 2819.7V2827.6M405.4 2830.3H437.2M405.4 2825H408M405.4 2825V2830.3M402.7 2832.9H437.2M402.7 2827.6H405.4M402.7 2827.6V2832.9M355 2835.6H437.2M355 2830.3H402.7M355 2830.3V2835.6M355 2822.3V2830.3M347.1 2822.3H355M347.1 2806.4V2822.3M341.8 2814.4H347.1M341.8 2724.3V2814.4M325.9 2769.3H341.8M325.9 2591.8V2769.3M299.4 2679.2H325.9M405.4 2838.2H437.2M405.4 2843.5H437.2M405.4 2838.2V2843.5M416 2846.2H437.2M416 2848.8H437.2M416 2846.2V2848.8M410.7 2851.5H437.2M410.7 2846.2H416M410.7 2846.2V2851.5M365.6 2840.9H405.4M365.6 2848.8H410.7M365.6 2840.9V2848.8M310 2840.9H365.6M336.5 2854.1H437.2M389.5 2859.4H437.2M397.4 2862.1H437.2M416 2864.7H437.2M416 2867.4H437.2M416 2864.7V2867.4M413.3 2870H437.2M413.3 2864.7H416M413.3 2864.7V2870M397.4 2867.4H413.3M397.4 2862.1V2867.4M392.1 2872.7H437.2M392.1 2864.7H397.4M392.1 2864.7V2872.7M389.5 2867.4H392.1M389.5 2859.4V2867.4M368.3 2875.3H437.2M368.3 2862.1H389.5M368.3 2862.1V2875.3M336.5 2864.7H368.3M336.5 2854.1V2864.7M323.2 2859.4H336.5M357.7 2878H437.2M410.7 2880.6H437.2M413.3 2883.3H437.2M423.9 2885.9H437.2M423.9 2888.6H437.2M423.9 2885.9V2888.6M421.3 2891.2H437.2M421.3 2885.9H423.9M421.3 2885.9V2891.2M418.6 2893.9H437.2M418.6 2888.6H421.3M418.6 2888.6V2893.9M416 2896.5H437.2M416 2891.2H418.6M416 2891.2V2896.5M413.3 2893.9H416M413.3 2883.3V2893.9M410.7 2888.6H413.3M410.7 2880.6V2888.6M408 2899.2H437.2M408 2883.3H410.7M408 2883.3V2899.2M357.7 2891.2H408M357.7 2878V2891.2M352.4 2885.9H357.7M394.8 2901.8H437.2M405.4 2904.5H437.2M405.4 2907.1H437.2M405.4 2904.5V2907.1M402.7 2909.8H437.2M402.7 2904.5H405.4M402.7 2904.5V2909.8M402.7 2912.4H437.2M408 2915.1H437.2M418.6 2917.7H437.2M418.6 2920.4H437.2M418.6 2917.7V2920.4M408 2920.4H418.6M408 2915.1V2920.4M405.4 2923H437.2M405.4 2917.7H408M405.4 2917.7V2923M402.7 2920.4H405.4M402.7 2912.4V2920.4M400.1 2907.1H402.7M400.1 2915.1H402.7M400.1 2907.1V2915.1M394.8 2912.4H400.1M394.8 2901.8V2912.4M392.1 2925.7H437.2M392.1 2907.1H394.8M392.1 2907.1V2925.7M378.9 2928.3H437.2M378.9 2915.1H392.1M378.9 2915.1V2928.3M378.9 2915.1V2915.1M355 2915.1H378.9M400.1 2931H437.2M402.7 2933.6H437.2M405.4 2936.3H437.2M408 2938.9H437.2M413.3 2941.6H437.2M413.3 2944.2H437.2M413.3 2941.6V2944.2M413.3 2946.9H437.2M413.3 2949.5H437.2M413.3 2946.9V2949.5M410.7 2944.2H413.3M410.7 2949.5H413.3M410.7 2944.2V2949.5M408 2946.9H410.7M408 2938.9V2946.9M405.4 2944.2H408M405.4 2936.3V2944.2M402.7 2938.9H405.4M402.7 2933.6V2938.9M400.1 2936.3H402.7M400.1 2931V2936.3M386.8 2952.2H437.2M386.8 2933.6H400.1M386.8 2933.6V2952.2M381.5 2954.8H437.2M381.5 2944.2H386.8M381.5 2944.2V2954.8M378.9 2957.5H437.2M378.9 2949.5H381.5M378.9 2949.5V2957.5M378.9 2944.2V2949.5M355 2944.2H378.9M355 2915.1V2944.2M352.4 2928.3H355M352.4 2885.9V2928.3M328.5 2907.1H352.4M405.4 2960.1H437.2M408 2965.4H437.2M410.7 2968.1H437.2M413.3 2970.7H437.2M413.3 2973.4H437.2M413.3 2970.7V2973.4M410.7 2970.7H413.3M410.7 2968.1V2970.7M408 2968.1H410.7M408 2965.4V2968.1M405.4 2965.4H408M405.4 2960.1V2965.4M402.7 2976H437.2M402.7 2962.8H405.4M402.7 2962.8V2976M408 2978.7H437.2M408 2981.3H437.2M408 2978.7V2981.3M397.4 2984H437.2M397.4 2978.7H408M397.4 2978.7V2984M378.9 2970.7H402.7M378.9 2981.3H397.4M378.9 2970.7V2981.3M349.7 2970.7H378.9M378.9 2986.6H437.2M413.3 2989.3H437.2M413.3 2991.9H437.2M413.3 2989.3V2991.9M408 2994.6H437.2M413.3 2997.2H437.2M413.3 2999.9H437.2M413.3 2997.2V2999.9M408 2997.2H413.3M408 2994.6V2997.2M405.4 2989.3H413.3M405.4 2994.6H408M405.4 2989.3V2994.6M400.1 3002.5H437.2M400.1 2991.9H405.4M400.1 2991.9V3002.5M397.4 3002.5H437.2M397.4 2997.2H400.1M397.4 2997.2V3002.5M378.9 2999.9H397.4M378.9 2986.6V2999.9M360.3 2994.6H378.9M400.1 3005.2H437.2M418.6 3007.8H437.2M418.6 3010.5H437.2M418.6 3007.8V3010.5M405.4 3013.1H437.2M405.4 3010.5H418.6M405.4 3010.5V3013.1M408 3015.8H437.2M408 3018.4H437.2M408 3015.8V3018.4M405.4 3021.1H437.2M405.4 3018.4H408M405.4 3018.4V3021.1M402.7 3013.1H405.4M402.7 3021.1H405.4M402.7 3013.1V3021.1M400.1 3015.8H402.7M400.1 3005.2V3015.8M405.4 3023.7H437.2M413.3 3026.4H437.2M416 3029H437.2M418.6 3031.7H437.2M421.3 3034.3H437.2M421.3 3037H437.2M421.3 3034.3V3037M418.6 3037H421.3M418.6 3031.7V3037M416 3034.3H418.6M416 3029V3034.3M413.3 3031.7H416M413.3 3026.4V3031.7M410.7 3039.6H437.2M410.7 3029H413.3M410.7 3029V3039.6M416 3042.3H437.2M418.6 3044.9H437.2M418.6 3047.6H437.2M418.6 3044.9V3047.6M416 3047.6H418.6M416 3042.3V3047.6M408 3034.3H410.7M408 3044.9H416M408 3034.3V3044.9M405.4 3039.6H408M405.4 3023.7V3039.6M405.4 3050.2H405.4M410.7 3052.9H437.2M410.7 3055.5H437.2M410.7 3052.9V3055.5M408 3058.2H437.2M408 3055.5H410.7M408 3055.5V3058.2M405.4 3058.2H408M405.4 3050.2V3058.2M402.7 3031.7H405.4M402.7 3055.5H405.4M402.7 3031.7V3055.5M381.5 3010.5H400.1M381.5 3042.3H402.7M381.5 3010.5V3042.3M408 3060.8H437.2M408 3063.5H437.2M408 3060.8V3063.5M378.9 3026.4H381.5M378.9 3063.5H408M378.9 3026.4V3063.5M360.3 3031.7H378.9M360.3 2994.6V3031.7M349.7 3013.1H360.3M349.7 2970.7V3013.1M328.5 2991.9H349.7M328.5 2907.1V2991.9M323.2 2949.5H328.5M323.2 2859.4V2949.5M310 2904.5H323.2M310 2840.9V2904.5M299.4 2872.7H310M299.4 2679.2V2872.7M272.9 2777.3H299.4M272.9 2777.3V3071.4M243.7 2923H272.9M243.7 2112.1V2923M225.2 2517.6H243.7M225.2 845.4V2517.6M214.6 1682.8H225.2M214.6 758V1682.8" fill="none" stroke="#000" stroke-width="2.8" stroke-linecap="square" shape-rendering="crispEdges"/>
<path d="M272.9 3070.2H438.5" stroke="#000" stroke-width="2.65" fill="none"/><rect x="294" y="3066.5" width="144.5" height="4.5"/><rect x="340" y="3066.5" width="98.5" height="7"/>
<g shape-rendering="crispEdges"><rect x="1727.3" y="730" width="19.5" height="54.8" fill="#d0390c"/><rect x="1727.3" y="787.4" width="19.5" height="79.2" fill="#05419b"/><rect x="1727.3" y="869.1" width="19.5" height="1689.9" fill="#e89a85"/><rect x="1727.3" y="2562" width="19.5" height="512" fill="#7f9fcf"/></g>
<text x="1777" y="773.4" font-size="51">C1</text>
<text x="1777" y="841.2" font-size="51">C2</text>
<text x="1777" y="1727.3" font-size="51">C3</text>
<text x="1777" y="2834.3" font-size="51">C4</text>
<text transform="translate(525.7 3115) rotate(-45)" text-anchor="end" font-size="52.5">CAL27 #1</text>
<text transform="translate(633.6 3115) rotate(-45)" text-anchor="end" font-size="52.5">CAL27 #2</text>
<text transform="translate(741.6 3115) rotate(-45)" text-anchor="end" font-size="52.5">CAL27 #3</text>
<text transform="translate(849.5 3115) rotate(-45)" text-anchor="end" font-size="52.5">SCC25 #1</text>
<text transform="translate(957.5 3115) rotate(-45)" text-anchor="end" font-size="52.5">SCC25 #2</text>
<text transform="translate(1065.4 3115) rotate(-45)" text-anchor="end" font-size="52.5">SCC25 #3</text>
<text transform="translate(1173.3 3115) rotate(-45)" text-anchor="end" font-size="52.5">CAL27 #1</text>
<text transform="translate(1281.3 3115) rotate(-45)" text-anchor="end" font-size="52.5">CAL27 #2</text>
<text transform="translate(1389.2 3115) rotate(-45)" text-anchor="end" font-size="52.5">CAL27 #3</text>
<text transform="translate(1497.2 3115) rotate(-45)" text-anchor="end" font-size="52.5">SCC25 #1</text>
<text transform="translate(1605.1 3115) rotate(-45)" text-anchor="end" font-size="52.5">SCC25 #2</text>
<text transform="translate(1713 3115) rotate(-45)" text-anchor="end" font-size="52.5">SCC25 #3</text>
<rect x="343" y="3303" width="607" height="10.5"/><rect x="981" y="3303" width="604.5" height="10.5"/>
<text x="644.5" y="3378.5" font-size="52.5" text-anchor="middle">Cell</text>
<text x="1284" y="3378.5" font-size="52.5" text-anchor="middle">sEV</text>
<rect x="639.7" y="3426.3" width="660" height="45.2"/>
<g shape-rendering="crispEdges"><rect x="644.6" y="3431" width="59.4" height="35.8" fill="#001a4f"/><rect x="703.7" y="3431" width="59.4" height="35.8" fill="#084a96"/><rect x="762.8" y="3431" width="59.4" height="35.8" fill="#0e77b0"/><rect x="821.9" y="3431" width="59.4" height="35.8" fill="#6aaed0"/><rect x="881" y="3431" width="59.4" height="35.8" fill="#c0dcea"/><rect x="940.1" y="3431" width="59.4" height="35.8" fill="#f7f7f7"/><rect x="999.3" y="3431" width="59.4" height="35.8" fill="#fad9c3"/><rect x="1058.4" y="3431" width="59.4" height="35.8" fill="#efa676"/><rect x="1117.5" y="3431" width="59.4" height="35.8" fill="#dc673f"/><rect x="1176.6" y="3431" width="59.4" height="35.8" fill="#c0361a"/><rect x="1235.7" y="3431" width="59.4" height="35.8" fill="#6e1f12"/></g>
<text x="675" y="3529.3" font-size="46" text-anchor="middle">3</text>
<text x="825.4" y="3529.3" font-size="46" text-anchor="middle">1</text>
<text x="973.5" y="3529.3" font-size="46" text-anchor="middle">0</text>
<text x="1122.7" y="3529.3" font-size="46" text-anchor="middle">1</text>
<text x="1272.5" y="3529.3" font-size="46" text-anchor="middle">3</text>
</svg>
</body></html>
